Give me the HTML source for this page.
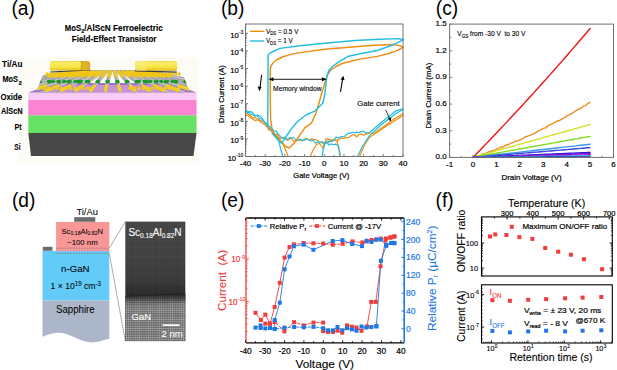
<!DOCTYPE html>
<html><head><meta charset="utf-8"><style>
html,body{margin:0;padding:0;background:#fff;overflow:hidden;}
svg{display:block;}
text{font-family:"Liberation Sans", sans-serif;}
</style></head><body>
<svg width="617" height="370" viewBox="0 0 617 370">
<defs>
<linearGradient id="gold" x1="0" y1="0" x2="0" y2="1">
<stop offset="0" stop-color="#e8d24a"/><stop offset="0.18" stop-color="#f8ec6a"/><stop offset="0.6" stop-color="#f8e645"/><stop offset="0.9" stop-color="#e8cc28"/><stop offset="1" stop-color="#c8a818"/></linearGradient>
<linearGradient id="goldside" x1="0" y1="0" x2="1" y2="0">
<stop offset="0" stop-color="#c89a18"/><stop offset="0.5" stop-color="#e0b828"/><stop offset="1" stop-color="#d8a820"/></linearGradient>
<linearGradient id="tem" x1="0" y1="0" x2="0" y2="1">
<stop offset="0" stop-color="#414141"/><stop offset="0.3" stop-color="#3c3c3c"/><stop offset="0.5" stop-color="#343434"/><stop offset="0.6" stop-color="#262626"/><stop offset="1" stop-color="#202020"/></linearGradient>
<linearGradient id="temfade" x1="0" y1="0" x2="0" y2="1">
<stop offset="0" stop-color="#1e1e1e" stop-opacity="1"/><stop offset="1" stop-color="#1e1e1e" stop-opacity="0"/></linearGradient>
<pattern id="lat" x="125.3" y="221.6" width="2.2" height="2.25" patternUnits="userSpaceOnUse"><rect width="2.2" height="2.25" fill="#636363"/><circle cx="1.1" cy="1.1" r="0.8" fill="#b6b6b6"/></pattern>
<pattern id="latd" x="125.3" y="221.6" width="2.2" height="2.25" patternUnits="userSpaceOnUse"><circle cx="1.1" cy="1.1" r="0.7" fill="#fff" fill-opacity="0.09"/></pattern>
</defs>
<rect width="617" height="370" fill="#fff"/>
<text transform="translate(11.5,14.6) scale(0.93,1)" font-size="20.6" fill="#000" text-anchor="start" font-weight="normal" >(a)</text>
<text transform="translate(220.9,14.6) scale(0.93,1)" font-size="20.6" fill="#000" text-anchor="start" font-weight="normal" >(b)</text>
<text transform="translate(435.8,14.6) scale(0.93,1)" font-size="20.6" fill="#000" text-anchor="start" font-weight="normal" >(c)</text>
<text transform="translate(12,206.8) scale(0.93,1)" font-size="20.6" fill="#000" text-anchor="start" font-weight="normal" >(d)</text>
<text transform="translate(220.9,206.9) scale(0.93,1)" font-size="20.6" fill="#000" text-anchor="start" font-weight="normal" >(e)</text>
<text transform="translate(435.6,206.8) scale(0.93,1)" font-size="20.6" fill="#000" text-anchor="start" font-weight="normal" >(f)</text>
<rect x="18" y="57.5" width="180.6" height="106.3" fill="#fdfbf6"/>
<polygon points="28.3,133 196.5,133 193.5,156 31,156" fill="#474747"/>
<polygon points="28.3,115.2 196.5,115.2 196.5,133 28.3,133" fill="#66e164"/>
<polygon points="28.3,100 196.5,100 196.5,115.2 28.3,115.2" fill="#fc82d2"/>
<polygon points="28.3,92.6 196.5,92.6 196.5,100 28.3,100" fill="#f8cbf3"/>
<polygon points="28.3,92.6 55,83 172,83 196.5,92.6" fill="#a070c8"/>
<polygon points="60,85 165,85 180,92.6 45,92.6" fill="#cc9ad8" opacity="0.85"/>
<clipPath id="mosclip"><polygon points="45,70 181,70 190,92.6 36,92.6"/></clipPath>
<g clip-path="url(#mosclip)">
<line x1="86.24" y1="69" x2="-39.84" y2="93" stroke="#a4a4a8" stroke-width="3.8"/>
<line x1="87.44" y1="69" x2="-38.64" y2="93" stroke="#e2e2e2" stroke-width="0.7"/>
<line x1="89" y1="69" x2="-23.8" y2="93" stroke="#a4a4a8" stroke-width="3.8"/>
<line x1="90.2" y1="69" x2="-22.6" y2="93" stroke="#e2e2e2" stroke-width="0.7"/>
<line x1="91.76" y1="69" x2="-7.76" y2="93" stroke="#a4a4a8" stroke-width="3.8"/>
<line x1="92.96" y1="69" x2="-6.56" y2="93" stroke="#e2e2e2" stroke-width="0.7"/>
<line x1="94.53" y1="69" x2="8.27" y2="93" stroke="#a4a4a8" stroke-width="3.8"/>
<line x1="95.73" y1="69" x2="9.47" y2="93" stroke="#e2e2e2" stroke-width="0.7"/>
<line x1="97.29" y1="69" x2="24.31" y2="93" stroke="#a4a4a8" stroke-width="3.8"/>
<line x1="98.49" y1="69" x2="25.51" y2="93" stroke="#e2e2e2" stroke-width="0.7"/>
<line x1="100.06" y1="69" x2="40.34" y2="93" stroke="#a4a4a8" stroke-width="3.8"/>
<line x1="101.26" y1="69" x2="41.54" y2="93" stroke="#e2e2e2" stroke-width="0.7"/>
<line x1="102.82" y1="69" x2="56.38" y2="93" stroke="#a4a4a8" stroke-width="3.8"/>
<line x1="104.02" y1="69" x2="57.58" y2="93" stroke="#e2e2e2" stroke-width="0.7"/>
<line x1="105.59" y1="69" x2="72.41" y2="93" stroke="#a4a4a8" stroke-width="3.8"/>
<line x1="106.79" y1="69" x2="73.61" y2="93" stroke="#e2e2e2" stroke-width="0.7"/>
<line x1="108.35" y1="69" x2="88.45" y2="93" stroke="#a4a4a8" stroke-width="3.8"/>
<line x1="109.55" y1="69" x2="89.65" y2="93" stroke="#e2e2e2" stroke-width="0.7"/>
<line x1="111.12" y1="69" x2="104.48" y2="93" stroke="#a4a4a8" stroke-width="3.8"/>
<line x1="112.32" y1="69" x2="105.68" y2="93" stroke="#e2e2e2" stroke-width="0.7"/>
<line x1="113.88" y1="69" x2="120.52" y2="93" stroke="#a4a4a8" stroke-width="3.8"/>
<line x1="115.08" y1="69" x2="121.72" y2="93" stroke="#e2e2e2" stroke-width="0.7"/>
<line x1="116.65" y1="69" x2="136.55" y2="93" stroke="#a4a4a8" stroke-width="3.8"/>
<line x1="117.85" y1="69" x2="137.75" y2="93" stroke="#e2e2e2" stroke-width="0.7"/>
<line x1="119.41" y1="69" x2="152.59" y2="93" stroke="#a4a4a8" stroke-width="3.8"/>
<line x1="120.61" y1="69" x2="153.79" y2="93" stroke="#e2e2e2" stroke-width="0.7"/>
<line x1="122.18" y1="69" x2="168.62" y2="93" stroke="#a4a4a8" stroke-width="3.8"/>
<line x1="123.38" y1="69" x2="169.82" y2="93" stroke="#e2e2e2" stroke-width="0.7"/>
<line x1="124.94" y1="69" x2="184.66" y2="93" stroke="#a4a4a8" stroke-width="3.8"/>
<line x1="126.14" y1="69" x2="185.86" y2="93" stroke="#e2e2e2" stroke-width="0.7"/>
<line x1="127.71" y1="69" x2="200.69" y2="93" stroke="#a4a4a8" stroke-width="3.8"/>
<line x1="128.91" y1="69" x2="201.89" y2="93" stroke="#e2e2e2" stroke-width="0.7"/>
<line x1="130.47" y1="69" x2="216.73" y2="93" stroke="#a4a4a8" stroke-width="3.8"/>
<line x1="131.67" y1="69" x2="217.93" y2="93" stroke="#e2e2e2" stroke-width="0.7"/>
<line x1="133.24" y1="69" x2="232.76" y2="93" stroke="#a4a4a8" stroke-width="3.8"/>
<line x1="134.44" y1="69" x2="233.96" y2="93" stroke="#e2e2e2" stroke-width="0.7"/>
<line x1="136" y1="69" x2="248.8" y2="93" stroke="#a4a4a8" stroke-width="3.8"/>
<line x1="137.2" y1="69" x2="250" y2="93" stroke="#e2e2e2" stroke-width="0.7"/>
<line x1="72.58" y1="71.6" x2="48.41" y2="76.2" stroke="#f2c818" stroke-width="3" stroke-linecap="round"/>
<line x1="-3.06" y1="86" x2="-26.18" y2="90.4" stroke="#f5cc22" stroke-width="3.2" stroke-linecap="round"/>
<ellipse cx="20.05" cy="81.6" rx="2.3" ry="1.9" fill="#1c9428"/>
<line x1="76.78" y1="71.6" x2="55.16" y2="76.2" stroke="#f2c818" stroke-width="3" stroke-linecap="round"/>
<line x1="9.1" y1="86" x2="-11.58" y2="90.4" stroke="#f5cc22" stroke-width="3.2" stroke-linecap="round"/>
<ellipse cx="29.78" cy="81.6" rx="2.3" ry="1.9" fill="#1c9428"/>
<line x1="80.98" y1="71.6" x2="61.91" y2="76.2" stroke="#f2c818" stroke-width="3" stroke-linecap="round"/>
<line x1="21.26" y1="86" x2="3.02" y2="90.4" stroke="#f5cc22" stroke-width="3.2" stroke-linecap="round"/>
<ellipse cx="39.51" cy="81.6" rx="2.3" ry="1.9" fill="#1c9428"/>
<line x1="85.18" y1="71.6" x2="68.65" y2="76.2" stroke="#f2c818" stroke-width="3" stroke-linecap="round"/>
<line x1="33.43" y1="86" x2="17.62" y2="90.4" stroke="#f5cc22" stroke-width="3.2" stroke-linecap="round"/>
<ellipse cx="49.24" cy="81.6" rx="2.3" ry="1.9" fill="#1c9428"/>
<line x1="89.39" y1="71.6" x2="75.4" y2="76.2" stroke="#f2c818" stroke-width="3" stroke-linecap="round"/>
<line x1="45.59" y1="86" x2="32.21" y2="90.4" stroke="#f5cc22" stroke-width="3.2" stroke-linecap="round"/>
<ellipse cx="58.98" cy="81.6" rx="2.3" ry="1.9" fill="#1c9428"/>
<line x1="93.59" y1="71.6" x2="82.14" y2="76.2" stroke="#f2c818" stroke-width="3" stroke-linecap="round"/>
<line x1="57.76" y1="86" x2="46.81" y2="90.4" stroke="#f5cc22" stroke-width="3.2" stroke-linecap="round"/>
<ellipse cx="68.71" cy="81.6" rx="2.3" ry="1.9" fill="#1c9428"/>
<line x1="97.79" y1="71.6" x2="88.89" y2="76.2" stroke="#f2c818" stroke-width="3" stroke-linecap="round"/>
<line x1="69.92" y1="86" x2="61.41" y2="90.4" stroke="#f5cc22" stroke-width="3.2" stroke-linecap="round"/>
<ellipse cx="78.44" cy="81.6" rx="2.3" ry="1.9" fill="#1c9428"/>
<line x1="101.99" y1="71.6" x2="95.64" y2="76.2" stroke="#f2c818" stroke-width="3" stroke-linecap="round"/>
<line x1="82.09" y1="86" x2="76.01" y2="90.4" stroke="#f5cc22" stroke-width="3.2" stroke-linecap="round"/>
<ellipse cx="88.17" cy="81.6" rx="2.3" ry="1.9" fill="#1c9428"/>
<line x1="106.2" y1="71.6" x2="102.38" y2="76.2" stroke="#f2c818" stroke-width="3" stroke-linecap="round"/>
<line x1="94.25" y1="86" x2="90.6" y2="90.4" stroke="#f5cc22" stroke-width="3.2" stroke-linecap="round"/>
<ellipse cx="97.9" cy="81.6" rx="2.3" ry="1.9" fill="#1c9428"/>
<line x1="110.4" y1="71.6" x2="109.13" y2="76.2" stroke="#f2c818" stroke-width="3" stroke-linecap="round"/>
<line x1="106.42" y1="86" x2="105.2" y2="90.4" stroke="#f5cc22" stroke-width="3.2" stroke-linecap="round"/>
<ellipse cx="107.63" cy="81.6" rx="2.3" ry="1.9" fill="#1c9428"/>
<line x1="114.6" y1="71.6" x2="115.87" y2="76.2" stroke="#f2c818" stroke-width="3" stroke-linecap="round"/>
<line x1="118.58" y1="86" x2="119.8" y2="90.4" stroke="#f5cc22" stroke-width="3.2" stroke-linecap="round"/>
<ellipse cx="117.37" cy="81.6" rx="2.3" ry="1.9" fill="#1c9428"/>
<line x1="118.8" y1="71.6" x2="122.62" y2="76.2" stroke="#f2c818" stroke-width="3" stroke-linecap="round"/>
<line x1="130.75" y1="86" x2="134.4" y2="90.4" stroke="#f5cc22" stroke-width="3.2" stroke-linecap="round"/>
<ellipse cx="127.1" cy="81.6" rx="2.3" ry="1.9" fill="#1c9428"/>
<line x1="123.01" y1="71.6" x2="129.36" y2="76.2" stroke="#f2c818" stroke-width="3" stroke-linecap="round"/>
<line x1="142.91" y1="86" x2="148.99" y2="90.4" stroke="#f5cc22" stroke-width="3.2" stroke-linecap="round"/>
<ellipse cx="136.83" cy="81.6" rx="2.3" ry="1.9" fill="#1c9428"/>
<line x1="127.21" y1="71.6" x2="136.11" y2="76.2" stroke="#f2c818" stroke-width="3" stroke-linecap="round"/>
<line x1="155.08" y1="86" x2="163.59" y2="90.4" stroke="#f5cc22" stroke-width="3.2" stroke-linecap="round"/>
<ellipse cx="146.56" cy="81.6" rx="2.3" ry="1.9" fill="#1c9428"/>
<line x1="131.41" y1="71.6" x2="142.86" y2="76.2" stroke="#f2c818" stroke-width="3" stroke-linecap="round"/>
<line x1="167.24" y1="86" x2="178.19" y2="90.4" stroke="#f5cc22" stroke-width="3.2" stroke-linecap="round"/>
<ellipse cx="156.29" cy="81.6" rx="2.3" ry="1.9" fill="#1c9428"/>
<line x1="135.61" y1="71.6" x2="149.6" y2="76.2" stroke="#f2c818" stroke-width="3" stroke-linecap="round"/>
<line x1="179.41" y1="86" x2="192.79" y2="90.4" stroke="#f5cc22" stroke-width="3.2" stroke-linecap="round"/>
<ellipse cx="166.02" cy="81.6" rx="2.3" ry="1.9" fill="#1c9428"/>
<line x1="139.82" y1="71.6" x2="156.35" y2="76.2" stroke="#f2c818" stroke-width="3" stroke-linecap="round"/>
<line x1="191.57" y1="86" x2="207.38" y2="90.4" stroke="#f5cc22" stroke-width="3.2" stroke-linecap="round"/>
<ellipse cx="175.76" cy="81.6" rx="2.3" ry="1.9" fill="#1c9428"/>
<line x1="144.02" y1="71.6" x2="163.09" y2="76.2" stroke="#f2c818" stroke-width="3" stroke-linecap="round"/>
<line x1="203.74" y1="86" x2="221.98" y2="90.4" stroke="#f5cc22" stroke-width="3.2" stroke-linecap="round"/>
<ellipse cx="185.49" cy="81.6" rx="2.3" ry="1.9" fill="#1c9428"/>
<line x1="148.22" y1="71.6" x2="169.84" y2="76.2" stroke="#f2c818" stroke-width="3" stroke-linecap="round"/>
<line x1="215.9" y1="86" x2="236.58" y2="90.4" stroke="#f5cc22" stroke-width="3.2" stroke-linecap="round"/>
<ellipse cx="195.22" cy="81.6" rx="2.3" ry="1.9" fill="#1c9428"/>
<circle cx="47" cy="73.9" r="1.6" fill="#f0c414"/>
<circle cx="50.3" cy="73.9" r="1.6" fill="#f0c414"/>
<circle cx="53.6" cy="73.9" r="1.6" fill="#f0c414"/>
<circle cx="56.9" cy="73.9" r="1.6" fill="#f0c414"/>
<circle cx="60.2" cy="73.9" r="1.6" fill="#f0c414"/>
<circle cx="63.5" cy="73.9" r="1.6" fill="#f0c414"/>
<circle cx="66.8" cy="73.9" r="1.6" fill="#f0c414"/>
<circle cx="70.1" cy="73.9" r="1.6" fill="#f0c414"/>
<circle cx="73.4" cy="73.9" r="1.6" fill="#f0c414"/>
<circle cx="76.7" cy="73.9" r="1.6" fill="#f0c414"/>
<circle cx="80" cy="73.9" r="1.6" fill="#f0c414"/>
<circle cx="83.3" cy="73.9" r="1.6" fill="#f0c414"/>
<circle cx="86.6" cy="73.9" r="1.6" fill="#f0c414"/>
<circle cx="89.9" cy="73.9" r="1.6" fill="#f0c414"/>
<ellipse cx="53" cy="81.4" rx="2.1" ry="1.7" fill="#1a9a2a"/>
<ellipse cx="58.6" cy="81.4" rx="2.1" ry="1.7" fill="#1a9a2a"/>
<ellipse cx="64.2" cy="81.4" rx="2.1" ry="1.7" fill="#1a9a2a"/>
<ellipse cx="69.8" cy="81.4" rx="2.1" ry="1.7" fill="#1a9a2a"/>
<ellipse cx="75.4" cy="81.4" rx="2.1" ry="1.7" fill="#1a9a2a"/>
<ellipse cx="81" cy="81.4" rx="2.1" ry="1.7" fill="#1a9a2a"/>
<ellipse cx="86.6" cy="81.4" rx="2.1" ry="1.7" fill="#1a9a2a"/>
<circle cx="44" cy="88.2" r="1.7" fill="#f2c820"/>
<circle cx="48.4" cy="88.2" r="1.7" fill="#f2c820"/>
<circle cx="52.8" cy="88.2" r="1.7" fill="#f2c820"/>
<circle cx="57.2" cy="88.2" r="1.7" fill="#f2c820"/>
<circle cx="61.6" cy="88.2" r="1.7" fill="#f2c820"/>
<circle cx="66" cy="88.2" r="1.7" fill="#f2c820"/>
<circle cx="70.4" cy="88.2" r="1.7" fill="#f2c820"/>
<circle cx="74.8" cy="88.2" r="1.7" fill="#f2c820"/>
<circle cx="79.2" cy="88.2" r="1.7" fill="#f2c820"/>
<circle cx="83.6" cy="88.2" r="1.7" fill="#f2c820"/>
<circle cx="88" cy="88.2" r="1.7" fill="#f2c820"/>
<circle cx="92.4" cy="88.2" r="1.7" fill="#f2c820"/>
<circle cx="133" cy="73.9" r="1.6" fill="#f0c414"/>
<circle cx="136.3" cy="73.9" r="1.6" fill="#f0c414"/>
<circle cx="139.6" cy="73.9" r="1.6" fill="#f0c414"/>
<circle cx="142.9" cy="73.9" r="1.6" fill="#f0c414"/>
<circle cx="146.2" cy="73.9" r="1.6" fill="#f0c414"/>
<circle cx="149.5" cy="73.9" r="1.6" fill="#f0c414"/>
<circle cx="152.8" cy="73.9" r="1.6" fill="#f0c414"/>
<circle cx="156.1" cy="73.9" r="1.6" fill="#f0c414"/>
<circle cx="159.4" cy="73.9" r="1.6" fill="#f0c414"/>
<circle cx="162.7" cy="73.9" r="1.6" fill="#f0c414"/>
<circle cx="166" cy="73.9" r="1.6" fill="#f0c414"/>
<circle cx="169.3" cy="73.9" r="1.6" fill="#f0c414"/>
<circle cx="172.6" cy="73.9" r="1.6" fill="#f0c414"/>
<circle cx="175.9" cy="73.9" r="1.6" fill="#f0c414"/>
<circle cx="179.2" cy="73.9" r="1.6" fill="#f0c414"/>
<ellipse cx="139" cy="81.4" rx="2.1" ry="1.7" fill="#1a9a2a"/>
<ellipse cx="144.6" cy="81.4" rx="2.1" ry="1.7" fill="#1a9a2a"/>
<ellipse cx="150.2" cy="81.4" rx="2.1" ry="1.7" fill="#1a9a2a"/>
<ellipse cx="155.8" cy="81.4" rx="2.1" ry="1.7" fill="#1a9a2a"/>
<ellipse cx="161.4" cy="81.4" rx="2.1" ry="1.7" fill="#1a9a2a"/>
<ellipse cx="167" cy="81.4" rx="2.1" ry="1.7" fill="#1a9a2a"/>
<ellipse cx="172.6" cy="81.4" rx="2.1" ry="1.7" fill="#1a9a2a"/>
<circle cx="130" cy="88.2" r="1.7" fill="#f2c820"/>
<circle cx="134.4" cy="88.2" r="1.7" fill="#f2c820"/>
<circle cx="138.8" cy="88.2" r="1.7" fill="#f2c820"/>
<circle cx="143.2" cy="88.2" r="1.7" fill="#f2c820"/>
<circle cx="147.6" cy="88.2" r="1.7" fill="#f2c820"/>
<circle cx="152" cy="88.2" r="1.7" fill="#f2c820"/>
<circle cx="156.4" cy="88.2" r="1.7" fill="#f2c820"/>
<circle cx="160.8" cy="88.2" r="1.7" fill="#f2c820"/>
<circle cx="165.2" cy="88.2" r="1.7" fill="#f2c820"/>
<circle cx="169.6" cy="88.2" r="1.7" fill="#f2c820"/>
<circle cx="174" cy="88.2" r="1.7" fill="#f2c820"/>
<circle cx="178.4" cy="88.2" r="1.7" fill="#f2c820"/>
</g>
<polygon points="50,71.6 90,69.4 90.5,70.6 51,72.6" fill="#3c3c44"/>
<polygon points="135,70.2 177,71.6 176.5,72.8 135,71.6" fill="#3c3c44"/>
<rect x="78" y="61" width="12.2" height="9.4" rx="3" fill="url(#goldside)"/>
<rect x="49.9" y="60.9" width="31" height="9.6" rx="2.6" fill="url(#gold)"/>
<rect x="134.9" y="60.9" width="42.4" height="9.8" rx="2.8" fill="url(#gold)"/>
<rect x="134.9" y="60.9" width="12" height="9.8" rx="2.5" fill="#f6ee86" opacity="0.55"/>
<text x="2.1" y="66.9" font-size="8.4" fill="#000" text-anchor="start" font-weight="bold"  stroke="#000" stroke-width="0.1" textLength="20.3" lengthAdjust="spacingAndGlyphs">Ti/Au</text>
<text x="0.4" y="99.6" font-size="8.4" fill="#000" text-anchor="start" font-weight="bold"  stroke="#000" stroke-width="0.1" textLength="21.6" lengthAdjust="spacingAndGlyphs">Oxide</text>
<text x="0.9" y="114.1" font-size="8.4" fill="#000" text-anchor="start" font-weight="bold"  stroke="#000" stroke-width="0.1" textLength="21.8" lengthAdjust="spacingAndGlyphs">AlScN</text>
<text x="14.6" y="129.7" font-size="8.4" fill="#000" text-anchor="start" font-weight="bold"  stroke="#000" stroke-width="0.1" textLength="7.1" lengthAdjust="spacingAndGlyphs">Pt</text>
<text x="14.3" y="150.2" font-size="8.4" fill="#000" text-anchor="start" font-weight="bold"  stroke="#000" stroke-width="0.1" textLength="6.2" lengthAdjust="spacingAndGlyphs">Si</text>
<text x="2.4" y="82" font-size="8.4" fill="#000" text-anchor="start" font-weight="bold"  stroke="#000" stroke-width="0.1" textLength="15.6" lengthAdjust="spacingAndGlyphs">MoS</text>
<text x="18.4" y="84.5" font-size="5.8" fill="#000" text-anchor="start" font-weight="bold"  stroke="#000" stroke-width="0.1" textLength="3.4" lengthAdjust="spacingAndGlyphs">2</text>
<text x="64.8" y="31" font-size="8.6" fill="#000" text-anchor="start" font-weight="bold"  stroke="#000" stroke-width="0.12" textLength="16.2" lengthAdjust="spacingAndGlyphs">MoS</text>
<text x="81.2" y="33.2" font-size="5.6" fill="#000" text-anchor="start" font-weight="bold"  stroke="#000" stroke-width="0.12" textLength="3" lengthAdjust="spacingAndGlyphs">2</text>
<text x="84.3" y="31" font-size="8.6" fill="#000" text-anchor="start" font-weight="bold"  stroke="#000" stroke-width="0.12" textLength="78.5" lengthAdjust="spacingAndGlyphs">/AlScN Ferroelectric</text>
<text x="71.8" y="42.2" font-size="8.6" fill="#000" text-anchor="start" font-weight="bold"  stroke="#000" stroke-width="0.12" textLength="84.6" lengthAdjust="spacingAndGlyphs">Field-Effect Transistor</text>
<polyline points="245.5,113 247.86,113.98 250.21,115.49 252.57,117.86 254.93,117.46 257.29,118.74 259.64,120.15 262,121 264.5,122.18 267,125.54 269.5,128.19 272,130 274.67,133.82 277.33,134.29 280,138.5 282.22,138 284.44,137.45 286.67,140.05 288.89,139.82 291.11,137.78 293.33,141.13 295.56,141.24 297.78,140.35 300,140 302.25,140.45 304.5,138.97 306.75,138.55 309,140.35 311.25,138.82 313.5,139.33 315.75,139.57 318,140.5 320.5,145 322.9,148 324.6,143 326.1,138.7 326.1,138.7 328.28,139.17 330.46,140.35 332.64,140.94 334.82,139.73 337,141.5 338.6,147 339.8,156.5" fill="none" stroke="#ef8d12" stroke-width="1.2" stroke-linejoin="round" stroke-linecap="round" />
<polyline points="245.5,115 247.86,115.45 250.21,117.82 252.57,118.96 254.93,120.57 257.29,119.82 259.64,121.09 262,123 264.33,124.16 266.67,126.55 269,130.17 271.33,130.61 273.67,133.92 276,136 278.57,138.28 281.13,141.61 283.7,145.3 288.2,156.5" fill="none" stroke="#ef8d12" stroke-width="1.2" stroke-linejoin="round" stroke-linecap="round" />
<polyline points="310.3,156.5 313,150 316.6,144.5 318.7,143.8 318.7,143.8 321.03,141.93 323.36,143.4 325.69,142.69 328.01,143.12 330.34,140.31 332.67,139.72 335,140 337.14,140.31 339.29,139.56 341.43,137.88 343.57,138.68 345.71,137.22 347.86,138.02 350,136.6 352.25,134.92 354.5,134.89 356.75,136.79 359,134.57 361.25,133.85 363.5,135.3 365.75,134.33 368,133.5 375,132.8 392.3,120.2 403,113.6" fill="none" stroke="#ef8d12" stroke-width="1.2" stroke-linejoin="round" stroke-linecap="round" />
<polyline points="359.5,156.5 365,144 369.6,137.3 385,127 403,115.5" fill="none" stroke="#ef8d12" stroke-width="1.2" stroke-linejoin="round" stroke-linecap="round" />
<polyline points="245.5,111 247.86,111.01 250.21,113.93 252.57,114.88 254.93,115.5 257.29,115.75 259.64,118.85 262,119 264.4,122.44 266.8,123.84 269.2,126.22 271.6,127.71 274,131 276.25,131.2 278.5,134.31 280.75,136.91 283,138.5 285.12,137.11 287.25,139.62 289.38,137.78 291.5,137.85 293.62,137.27 295.75,140.56 297.88,139.74 300,139 302.22,140.66 304.44,140.17 306.67,138.59 308.89,139.98 311.11,140.94 313.33,140.03 315.56,143.25 317.78,141.67 320,142.5 322.21,141.65 324.43,144.2 326.64,142.17 328.85,145.2 331.06,143.9 333.27,144.55 335.49,144.16 337.7,145 339.4,150 340.3,156.5" fill="none" stroke="#22bde0" stroke-width="1.2" stroke-linejoin="round" stroke-linecap="round" />
<polyline points="245.5,110.5 247.86,112.88 250.21,111.61 252.57,112.35 254.93,116.21 257.29,114.95 259.64,115.84 262,118 264.34,121.58 266.69,123.84 269.03,128.54 271.37,129.8 273.71,135.03 276.06,136.34 278.4,140 280,146 282.8,156.5" fill="none" stroke="#22bde0" stroke-width="1.2" stroke-linejoin="round" stroke-linecap="round" />
<polyline points="321.9,156.5 323.5,149 325,143.4 327.1,140.8 327.1,140.8 329.34,141.64 331.58,141.12 333.81,140.33 336.05,136.99 338.29,138.11 340.52,136.94 342.76,136.7 345,136 347.5,133.45 350,133.4 352.25,132.25 354.5,132.99 356.75,132.12 359,132.8 361.25,131.23 363.5,131.32 365.75,133.32 368,132.5 370,132 382.8,121.2 396,110.8 403,108.9" fill="none" stroke="#22bde0" stroke-width="1.2" stroke-linejoin="round" stroke-linecap="round" />
<polyline points="357.7,156.5 362,147 369.6,135.4 382.8,123.5 396,113.5 403,109.5" fill="none" stroke="#22bde0" stroke-width="1.2" stroke-linejoin="round" stroke-linecap="round" />
<polyline points="272,131 280,140 285,146 289.1,148 293.6,143.8 298.9,136.4 305,127.6 311.4,123.1 316.1,112.7 318.9,103.3 322.7,90 325.9,79.7 328,74 330.8,70 336,66.5 342.1,63.5 350,61.5 360,59.1 377.3,56.4 388,53.8 396.6,50.9 401,48.5 403,47.2" fill="none" stroke="#ef8d12" stroke-width="1.45" stroke-linejoin="round" stroke-linecap="round" />
<polyline points="403,47.2 400,45.6 392,44.5 375,45.2 355,46.7 325,49.3 300,52.6 290,54.6 283.8,56.5 277,59.5 273.4,62.5 271.2,65.5 270.3,69 270.3,100 270.6,118.7 271.5,126 272,131" fill="none" stroke="#ef8d12" stroke-width="1.45" stroke-linejoin="round" stroke-linecap="round" />
<polyline points="272,133 278,140 281.9,143.5 286,136.5 291.7,128.4 297,122 306,115 315.2,110.8 322.7,103.3 324.6,95.7 325.6,88 326.7,77.3 328.8,70.5 333,66 338.9,61.9 348.6,56.2 360,53.8 377.3,50.5 392.1,45.3 403,39.8" fill="none" stroke="#22bde0" stroke-width="1.45" stroke-linejoin="round" stroke-linecap="round" />
<polyline points="403,39.8 399.6,38.6 380,39.2 355,40.5 330,42.8 300,45.7 280,48.4 271,52.5 268.3,54.5 268.1,56 268,90 267.7,124.3 267.7,126" fill="none" stroke="#22bde0" stroke-width="1.45" stroke-linejoin="round" stroke-linecap="round" />
<rect x="245.5" y="24" width="157.5" height="132.5" fill="none" stroke="#727272" stroke-width="1"/>
<line x1="245.5" y1="156.5" x2="245.5" y2="154" stroke="#727272" stroke-width="0.9" />
<line x1="265.19" y1="156.5" x2="265.19" y2="154" stroke="#727272" stroke-width="0.9" />
<line x1="284.88" y1="156.5" x2="284.88" y2="154" stroke="#727272" stroke-width="0.9" />
<line x1="304.56" y1="156.5" x2="304.56" y2="154" stroke="#727272" stroke-width="0.9" />
<line x1="324.25" y1="156.5" x2="324.25" y2="154" stroke="#727272" stroke-width="0.9" />
<line x1="343.94" y1="156.5" x2="343.94" y2="154" stroke="#727272" stroke-width="0.9" />
<line x1="363.62" y1="156.5" x2="363.62" y2="154" stroke="#727272" stroke-width="0.9" />
<line x1="383.31" y1="156.5" x2="383.31" y2="154" stroke="#727272" stroke-width="0.9" />
<line x1="403" y1="156.5" x2="403" y2="154" stroke="#727272" stroke-width="0.9" />
<line x1="255.34" y1="156.5" x2="255.34" y2="155" stroke="#727272" stroke-width="0.9" />
<line x1="275.03" y1="156.5" x2="275.03" y2="155" stroke="#727272" stroke-width="0.9" />
<line x1="294.72" y1="156.5" x2="294.72" y2="155" stroke="#727272" stroke-width="0.9" />
<line x1="314.41" y1="156.5" x2="314.41" y2="155" stroke="#727272" stroke-width="0.9" />
<line x1="334.09" y1="156.5" x2="334.09" y2="155" stroke="#727272" stroke-width="0.9" />
<line x1="353.78" y1="156.5" x2="353.78" y2="155" stroke="#727272" stroke-width="0.9" />
<line x1="373.47" y1="156.5" x2="373.47" y2="155" stroke="#727272" stroke-width="0.9" />
<line x1="393.16" y1="156.5" x2="393.16" y2="155" stroke="#727272" stroke-width="0.9" />
<line x1="245.5" y1="156.5" x2="248" y2="156.5" stroke="#727272" stroke-width="0.9" />
<line x1="245.5" y1="151.2" x2="246.9" y2="151.2" stroke="#727272" stroke-width="0.7" />
<line x1="245.5" y1="148.1" x2="246.9" y2="148.1" stroke="#727272" stroke-width="0.7" />
<line x1="245.5" y1="145.9" x2="246.9" y2="145.9" stroke="#727272" stroke-width="0.7" />
<line x1="245.5" y1="144.2" x2="246.9" y2="144.2" stroke="#727272" stroke-width="0.7" />
<line x1="245.5" y1="142.8" x2="246.9" y2="142.8" stroke="#727272" stroke-width="0.7" />
<line x1="245.5" y1="141.63" x2="246.9" y2="141.63" stroke="#727272" stroke-width="0.7" />
<line x1="245.5" y1="140.61" x2="246.9" y2="140.61" stroke="#727272" stroke-width="0.7" />
<line x1="245.5" y1="139.71" x2="246.9" y2="139.71" stroke="#727272" stroke-width="0.7" />
<line x1="245.5" y1="138.9" x2="248" y2="138.9" stroke="#727272" stroke-width="0.9" />
<line x1="245.5" y1="133.6" x2="246.9" y2="133.6" stroke="#727272" stroke-width="0.7" />
<line x1="245.5" y1="130.5" x2="246.9" y2="130.5" stroke="#727272" stroke-width="0.7" />
<line x1="245.5" y1="128.3" x2="246.9" y2="128.3" stroke="#727272" stroke-width="0.7" />
<line x1="245.5" y1="126.6" x2="246.9" y2="126.6" stroke="#727272" stroke-width="0.7" />
<line x1="245.5" y1="125.2" x2="246.9" y2="125.2" stroke="#727272" stroke-width="0.7" />
<line x1="245.5" y1="124.03" x2="246.9" y2="124.03" stroke="#727272" stroke-width="0.7" />
<line x1="245.5" y1="123.01" x2="246.9" y2="123.01" stroke="#727272" stroke-width="0.7" />
<line x1="245.5" y1="122.11" x2="246.9" y2="122.11" stroke="#727272" stroke-width="0.7" />
<line x1="245.5" y1="121.3" x2="248" y2="121.3" stroke="#727272" stroke-width="0.9" />
<line x1="245.5" y1="116" x2="246.9" y2="116" stroke="#727272" stroke-width="0.7" />
<line x1="245.5" y1="112.9" x2="246.9" y2="112.9" stroke="#727272" stroke-width="0.7" />
<line x1="245.5" y1="110.7" x2="246.9" y2="110.7" stroke="#727272" stroke-width="0.7" />
<line x1="245.5" y1="109" x2="246.9" y2="109" stroke="#727272" stroke-width="0.7" />
<line x1="245.5" y1="107.6" x2="246.9" y2="107.6" stroke="#727272" stroke-width="0.7" />
<line x1="245.5" y1="106.43" x2="246.9" y2="106.43" stroke="#727272" stroke-width="0.7" />
<line x1="245.5" y1="105.41" x2="246.9" y2="105.41" stroke="#727272" stroke-width="0.7" />
<line x1="245.5" y1="104.51" x2="246.9" y2="104.51" stroke="#727272" stroke-width="0.7" />
<line x1="245.5" y1="103.7" x2="248" y2="103.7" stroke="#727272" stroke-width="0.9" />
<line x1="245.5" y1="98.4" x2="246.9" y2="98.4" stroke="#727272" stroke-width="0.7" />
<line x1="245.5" y1="95.3" x2="246.9" y2="95.3" stroke="#727272" stroke-width="0.7" />
<line x1="245.5" y1="93.1" x2="246.9" y2="93.1" stroke="#727272" stroke-width="0.7" />
<line x1="245.5" y1="91.4" x2="246.9" y2="91.4" stroke="#727272" stroke-width="0.7" />
<line x1="245.5" y1="90" x2="246.9" y2="90" stroke="#727272" stroke-width="0.7" />
<line x1="245.5" y1="88.83" x2="246.9" y2="88.83" stroke="#727272" stroke-width="0.7" />
<line x1="245.5" y1="87.81" x2="246.9" y2="87.81" stroke="#727272" stroke-width="0.7" />
<line x1="245.5" y1="86.91" x2="246.9" y2="86.91" stroke="#727272" stroke-width="0.7" />
<line x1="245.5" y1="86.1" x2="248" y2="86.1" stroke="#727272" stroke-width="0.9" />
<line x1="245.5" y1="80.8" x2="246.9" y2="80.8" stroke="#727272" stroke-width="0.7" />
<line x1="245.5" y1="77.7" x2="246.9" y2="77.7" stroke="#727272" stroke-width="0.7" />
<line x1="245.5" y1="75.5" x2="246.9" y2="75.5" stroke="#727272" stroke-width="0.7" />
<line x1="245.5" y1="73.8" x2="246.9" y2="73.8" stroke="#727272" stroke-width="0.7" />
<line x1="245.5" y1="72.4" x2="246.9" y2="72.4" stroke="#727272" stroke-width="0.7" />
<line x1="245.5" y1="71.23" x2="246.9" y2="71.23" stroke="#727272" stroke-width="0.7" />
<line x1="245.5" y1="70.21" x2="246.9" y2="70.21" stroke="#727272" stroke-width="0.7" />
<line x1="245.5" y1="69.31" x2="246.9" y2="69.31" stroke="#727272" stroke-width="0.7" />
<line x1="245.5" y1="68.5" x2="248" y2="68.5" stroke="#727272" stroke-width="0.9" />
<line x1="245.5" y1="63.2" x2="246.9" y2="63.2" stroke="#727272" stroke-width="0.7" />
<line x1="245.5" y1="60.1" x2="246.9" y2="60.1" stroke="#727272" stroke-width="0.7" />
<line x1="245.5" y1="57.9" x2="246.9" y2="57.9" stroke="#727272" stroke-width="0.7" />
<line x1="245.5" y1="56.2" x2="246.9" y2="56.2" stroke="#727272" stroke-width="0.7" />
<line x1="245.5" y1="54.8" x2="246.9" y2="54.8" stroke="#727272" stroke-width="0.7" />
<line x1="245.5" y1="53.63" x2="246.9" y2="53.63" stroke="#727272" stroke-width="0.7" />
<line x1="245.5" y1="52.61" x2="246.9" y2="52.61" stroke="#727272" stroke-width="0.7" />
<line x1="245.5" y1="51.71" x2="246.9" y2="51.71" stroke="#727272" stroke-width="0.7" />
<line x1="245.5" y1="50.9" x2="248" y2="50.9" stroke="#727272" stroke-width="0.9" />
<line x1="245.5" y1="45.6" x2="246.9" y2="45.6" stroke="#727272" stroke-width="0.7" />
<line x1="245.5" y1="42.5" x2="246.9" y2="42.5" stroke="#727272" stroke-width="0.7" />
<line x1="245.5" y1="40.3" x2="246.9" y2="40.3" stroke="#727272" stroke-width="0.7" />
<line x1="245.5" y1="38.6" x2="246.9" y2="38.6" stroke="#727272" stroke-width="0.7" />
<line x1="245.5" y1="37.2" x2="246.9" y2="37.2" stroke="#727272" stroke-width="0.7" />
<line x1="245.5" y1="36.03" x2="246.9" y2="36.03" stroke="#727272" stroke-width="0.7" />
<line x1="245.5" y1="35.01" x2="246.9" y2="35.01" stroke="#727272" stroke-width="0.7" />
<line x1="245.5" y1="34.11" x2="246.9" y2="34.11" stroke="#727272" stroke-width="0.7" />
<line x1="245.5" y1="33.3" x2="248" y2="33.3" stroke="#727272" stroke-width="0.9" />
<line x1="245.5" y1="28" x2="246.9" y2="28" stroke="#727272" stroke-width="0.7" />
<line x1="245.5" y1="24.9" x2="246.9" y2="24.9" stroke="#727272" stroke-width="0.7" />
<text x="245.5" y="165.8" font-size="8" fill="#000" text-anchor="middle" font-weight="normal"  stroke="#000" stroke-width="0.2">-40</text>
<text x="265.19" y="165.8" font-size="8" fill="#000" text-anchor="middle" font-weight="normal"  stroke="#000" stroke-width="0.2">-30</text>
<text x="284.88" y="165.8" font-size="8" fill="#000" text-anchor="middle" font-weight="normal"  stroke="#000" stroke-width="0.2">-20</text>
<text x="304.56" y="165.8" font-size="8" fill="#000" text-anchor="middle" font-weight="normal"  stroke="#000" stroke-width="0.2">-10</text>
<text x="324.25" y="165.8" font-size="8" fill="#000" text-anchor="middle" font-weight="normal"  stroke="#000" stroke-width="0.2">0</text>
<text x="343.94" y="165.8" font-size="8" fill="#000" text-anchor="middle" font-weight="normal"  stroke="#000" stroke-width="0.2">10</text>
<text x="363.62" y="165.8" font-size="8" fill="#000" text-anchor="middle" font-weight="normal"  stroke="#000" stroke-width="0.2">20</text>
<text x="383.31" y="165.8" font-size="8" fill="#000" text-anchor="middle" font-weight="normal"  stroke="#000" stroke-width="0.2">30</text>
<text x="403" y="165.8" font-size="8" fill="#000" text-anchor="middle" font-weight="normal"  stroke="#000" stroke-width="0.2">40</text>
<text x="236.1" y="160.7" font-size="7.6" fill="#000" text-anchor="end" font-weight="normal"  stroke="#000" stroke-width="0.2">10</text>
<text x="236.2" y="157.1" font-size="4.9" fill="#000" text-anchor="start" font-weight="normal"  stroke="#000" stroke-width="0.12">-10</text>
<text x="238.7" y="143.1" font-size="7.6" fill="#000" text-anchor="end" font-weight="normal"  stroke="#000" stroke-width="0.2">10</text>
<text x="238.8" y="139.5" font-size="4.9" fill="#000" text-anchor="start" font-weight="normal"  stroke="#000" stroke-width="0.12">-9</text>
<text x="238.7" y="125.5" font-size="7.6" fill="#000" text-anchor="end" font-weight="normal"  stroke="#000" stroke-width="0.2">10</text>
<text x="238.8" y="121.9" font-size="4.9" fill="#000" text-anchor="start" font-weight="normal"  stroke="#000" stroke-width="0.12">-8</text>
<text x="238.7" y="107.9" font-size="7.6" fill="#000" text-anchor="end" font-weight="normal"  stroke="#000" stroke-width="0.2">10</text>
<text x="238.8" y="104.3" font-size="4.9" fill="#000" text-anchor="start" font-weight="normal"  stroke="#000" stroke-width="0.12">-7</text>
<text x="238.7" y="90.3" font-size="7.6" fill="#000" text-anchor="end" font-weight="normal"  stroke="#000" stroke-width="0.2">10</text>
<text x="238.8" y="86.7" font-size="4.9" fill="#000" text-anchor="start" font-weight="normal"  stroke="#000" stroke-width="0.12">-6</text>
<text x="238.7" y="72.7" font-size="7.6" fill="#000" text-anchor="end" font-weight="normal"  stroke="#000" stroke-width="0.2">10</text>
<text x="238.8" y="69.1" font-size="4.9" fill="#000" text-anchor="start" font-weight="normal"  stroke="#000" stroke-width="0.12">-5</text>
<text x="238.7" y="55.1" font-size="7.6" fill="#000" text-anchor="end" font-weight="normal"  stroke="#000" stroke-width="0.2">10</text>
<text x="238.8" y="51.5" font-size="4.9" fill="#000" text-anchor="start" font-weight="normal"  stroke="#000" stroke-width="0.12">-4</text>
<text x="238.7" y="37.5" font-size="7.6" fill="#000" text-anchor="end" font-weight="normal"  stroke="#000" stroke-width="0.2">10</text>
<text x="238.8" y="33.9" font-size="4.9" fill="#000" text-anchor="start" font-weight="normal"  stroke="#000" stroke-width="0.12">-3</text>
<text x="321.3" y="177.9" font-size="7.6" fill="#000" text-anchor="middle" font-weight="normal"  stroke="#000" stroke-width="0.2">Gate Voltage (V)</text>
<text x="0" y="0" font-size="7.6" fill="#000" text-anchor="middle" font-weight="normal" transform="translate(224,94) rotate(-90)" stroke="#000" stroke-width="0.2">Drain Current (A)</text>
<line x1="249.9" y1="31.3" x2="264.3" y2="31.3" stroke="#ef8d12" stroke-width="1.4" />
<line x1="249.9" y1="41" x2="264.3" y2="41" stroke="#22bde0" stroke-width="1.4" />
<text x="265.9" y="33.5" font-size="6.7" fill="#000" text-anchor="start" font-weight="normal"  stroke="#000" stroke-width="0.12" textLength="32.6" lengthAdjust="spacingAndGlyphs">V<tspan font-size="4.5" dy="1.8">DS</tspan><tspan dy="-1.8"> = 0.5 V</tspan></text>
<text x="265.9" y="43.4" font-size="6.7" fill="#000" text-anchor="start" font-weight="normal"  stroke="#000" stroke-width="0.12" textLength="26.8" lengthAdjust="spacingAndGlyphs">V<tspan font-size="4.5" dy="1.8">DS</tspan><tspan dy="-1.8"> = 1 V</tspan></text>
<line x1="270" y1="79.3" x2="325.5" y2="79.3" stroke="#000" stroke-width="0.9" />
<polygon points="268.6,79.3 273.5,77.3 273.5,81.3" fill="#000"/>
<polygon points="326.8,79.3 321.9,77.3 321.9,81.3" fill="#000"/>
<text x="273.1" y="90.5" font-size="6.9" fill="#000" text-anchor="start" font-weight="normal"  stroke="#000" stroke-width="0.12" textLength="48.4" lengthAdjust="spacingAndGlyphs">Memory window</text>
<line x1="261.6" y1="75" x2="260" y2="88" stroke="#000" stroke-width="1.1" />
<polygon points="259.3,91.2 257.7,86.6 261.6,87.1" fill="#000"/>
<line x1="340.5" y1="92" x2="342.6" y2="79" stroke="#000" stroke-width="1.1" />
<polygon points="343.4,75.8 340.6,79.6 344.6,80.2" fill="#000"/>
<text x="357.2" y="106.2" font-size="7.3" fill="#000" text-anchor="start" font-weight="normal"  stroke="#000" stroke-width="0.12" textLength="42.5" lengthAdjust="spacingAndGlyphs">Gate current</text>
<line x1="385.6" y1="109.8" x2="389.8" y2="119" stroke="#000" stroke-width="0.8" />
<polygon points="390.8,121.5 387.9,118.6 391.2,117.6" fill="#000"/>
<polyline points="473.01,157.4 475.36,155 477.7,152.59 480.04,150.17 482.38,147.75 484.72,145.31 487.06,142.88 489.4,140.43 491.75,137.98 494.09,135.52 496.43,133.05 498.77,130.58 501.11,128.1 503.45,125.61 505.79,123.11 508.14,120.61 510.48,118.1 512.82,115.58 515.16,113.06 517.5,110.53 519.84,107.99 522.18,105.44 524.53,102.89 526.87,100.33 529.21,97.77 531.55,95.19 533.89,92.61 536.23,90.02 538.57,87.43 540.92,84.83 543.26,82.22 545.6,79.6 547.94,76.98 550.28,74.35 552.62,71.71 554.96,69.07 557.31,66.41 559.65,63.76 561.99,61.09 564.33,58.42 566.67,55.74 569.01,53.05 571.35,50.35 573.7,47.65 576.04,44.94 578.38,42.23 580.72,39.51 583.06,36.78 585.4,34.04 587.74,31.29 590.09,28.54" fill="none" stroke="#ee1414" stroke-width="1.4" stroke-linejoin="round" stroke-linecap="round" />
<polyline points="473.01,157.4 475.36,156.33 477.7,156.06 480.04,155.37 482.38,153.96 484.72,153.9 487.06,152.69 489.4,151.76 491.75,150.85 494.09,150.48 496.43,149.08 498.77,148.33 501.11,147.04 503.45,147 505.79,145.07 508.14,144.95 510.48,143.3 512.82,142.65 515.16,141.3 517.5,140.99 519.84,139.82 522.18,139.03 524.53,137.24 526.87,136.43 529.21,135.7 531.55,134.62 533.89,133.63 536.23,132.38 538.57,130.86 540.92,129.84 543.26,128.39 545.6,127.88 547.94,125.87 550.28,124.51 552.62,123.55 554.96,122.3 557.31,120.94 559.65,120.48 561.99,118.81 564.33,117.92 566.67,115.87 569.01,114.8 571.35,113.93 573.7,112.22 576.04,110.5 578.38,109.36 580.72,108.42 583.06,106.15 585.4,105.66 587.74,103.39 590.09,102.3" fill="none" stroke="#ef8c22" stroke-width="1.4" stroke-linejoin="round" stroke-linecap="round" />
<polyline points="473.01,157.4 475.36,156.74 477.7,156.08 480.04,155.43 482.38,154.77 484.72,154.11 487.06,153.45 489.4,152.8 491.75,152.14 494.09,151.48 496.43,150.82 498.77,150.17 501.11,149.51 503.45,148.85 505.79,148.19 508.14,147.54 510.48,146.88 512.82,146.22 515.16,145.56 517.5,144.91 519.84,144.25 522.18,143.59 524.53,142.93 526.87,142.27 529.21,141.62 531.55,140.96 533.89,140.3 536.23,139.64 538.57,138.99 540.92,138.33 543.26,137.67 545.6,137.01 547.94,136.36 550.28,135.7 552.62,135.04 554.96,134.38 557.31,133.73 559.65,133.07 561.99,132.41 564.33,131.75 566.67,131.1 569.01,130.44 571.35,129.78 573.7,129.12 576.04,128.47 578.38,127.81 580.72,127.15 583.06,126.49 585.4,125.83 587.74,125.18 590.09,124.52" fill="none" stroke="#d2e02a" stroke-width="1.4" stroke-linejoin="round" stroke-linecap="round" />
<polyline points="473.01,157.4 475.36,156.98 477.7,156.56 480.04,156.14 482.38,155.72 484.72,155.29 487.06,154.87 489.4,154.45 491.75,154.03 494.09,153.61 496.43,153.19 498.77,152.77 501.11,152.35 503.45,151.92 505.79,151.5 508.14,151.08 510.48,150.66 512.82,150.24 515.16,149.82 517.5,149.4 519.84,148.98 522.18,148.55 524.53,148.13 526.87,147.71 529.21,147.29 531.55,146.87 533.89,146.45 536.23,146.03 538.57,145.61 540.92,145.18 543.26,144.76 545.6,144.34 547.94,143.92 550.28,143.5 552.62,143.08 554.96,142.66 557.31,142.24 559.65,141.81 561.99,141.39 564.33,140.97 566.67,140.55 569.01,140.13 571.35,139.71 573.7,139.29 576.04,138.87 578.38,138.44 580.72,138.02 583.06,137.6 585.4,137.18 587.74,136.76 590.09,136.34" fill="none" stroke="#80dc1c" stroke-width="1.4" stroke-linejoin="round" stroke-linecap="round" />
<polyline points="473.01,157.4 475.36,157.14 477.7,156.87 480.04,156.61 482.38,156.35 484.72,156.08 487.06,155.82 489.4,155.56 491.75,155.3 494.09,155.03 496.43,154.77 498.77,154.51 501.11,154.24 503.45,153.98 505.79,153.72 508.14,153.45 510.48,153.19 512.82,152.93 515.16,152.67 517.5,152.4 519.84,152.14 522.18,151.88 524.53,151.61 526.87,151.35 529.21,151.09 531.55,150.82 533.89,150.56 536.23,150.3 538.57,150.03 540.92,149.77 543.26,149.51 545.6,149.25 547.94,148.98 550.28,148.72 552.62,148.46 554.96,148.19 557.31,147.93 559.65,147.67 561.99,147.4 564.33,147.14 566.67,146.88 569.01,146.62 571.35,146.35 573.7,146.09 576.04,145.83 578.38,145.56 580.72,145.3 583.06,145.04 585.4,144.77 587.74,144.51 590.09,144.25" fill="none" stroke="#3898e8" stroke-width="1.4" stroke-linejoin="round" stroke-linecap="round" />
<polyline points="473.01,157.4 475.36,157.2 477.7,157.01 480.04,156.81 482.38,156.62 484.72,156.42 487.06,156.23 489.4,156.03 491.75,155.84 494.09,155.64 496.43,155.44 498.77,155.25 501.11,155.05 503.45,154.86 505.79,154.66 508.14,154.47 510.48,154.27 512.82,154.08 515.16,153.88 517.5,153.69 519.84,153.49 522.18,153.29 524.53,153.1 526.87,152.9 529.21,152.71 531.55,152.51 533.89,152.32 536.23,152.12 538.57,151.93 540.92,151.73 543.26,151.53 545.6,151.34 547.94,151.14 550.28,150.95 552.62,150.75 554.96,150.56 557.31,150.36 559.65,150.17 561.99,149.97 564.33,149.78 566.67,149.58 569.01,149.38 571.35,149.19 573.7,148.99 576.04,148.8 578.38,148.6 580.72,148.41 583.06,148.21 585.4,148.02 587.74,147.82 590.09,147.62" fill="none" stroke="#3848d8" stroke-width="1.4" stroke-linejoin="round" stroke-linecap="round" />
<polyline points="473.01,157.4 475.36,157.3 477.7,157.2 480.04,157.1 482.38,157 484.72,156.9 487.06,156.8 489.4,156.7 491.75,156.6 494.09,156.5 496.43,156.4 498.77,156.31 501.11,156.21 503.45,156.11 505.79,156.01 508.14,155.91 510.48,155.81 512.82,155.71 515.16,155.61 517.5,155.51 519.84,155.41 522.18,155.31 524.53,155.21 526.87,155.11 529.21,155.01 531.55,154.91 533.89,154.81 536.23,154.71 538.57,154.61 540.92,154.51 543.26,154.41 545.6,154.31 547.94,154.22 550.28,154.12 552.62,154.02 554.96,153.92 557.31,153.82 559.65,153.72 561.99,153.62 564.33,153.52 566.67,153.42 569.01,153.32 571.35,153.22 573.7,153.12 576.04,153.02 578.38,152.92 580.72,152.82 583.06,152.72 585.4,152.62 587.74,152.52 590.09,152.42" fill="none" stroke="#3414d8" stroke-width="1.4" stroke-linejoin="round" stroke-linecap="round" />
<polyline points="473.01,157.4 475.36,157.32 477.7,157.25 480.04,157.17 482.38,157.09 484.72,157.02 487.06,156.94 489.4,156.87 491.75,156.79 494.09,156.71 496.43,156.64 498.77,156.56 501.11,156.48 503.45,156.41 505.79,156.33 508.14,156.25 510.48,156.18 512.82,156.1 515.16,156.02 517.5,155.95 519.84,155.87 522.18,155.8 524.53,155.72 526.87,155.64 529.21,155.57 531.55,155.49 533.89,155.41 536.23,155.34 538.57,155.26 540.92,155.18 543.26,155.11 545.6,155.03 547.94,154.95 550.28,154.88 552.62,154.8 554.96,154.73 557.31,154.65 559.65,154.57 561.99,154.5 564.33,154.42 566.67,154.34 569.01,154.27 571.35,154.19 573.7,154.11 576.04,154.04 578.38,153.96 580.72,153.88 583.06,153.81 585.4,153.73 587.74,153.66 590.09,153.58" fill="none" stroke="#7a12e6" stroke-width="1.4" stroke-linejoin="round" stroke-linecap="round" />
<polyline points="473.01,157.4 475.36,157.35 477.7,157.29 480.04,157.24 482.38,157.19 484.72,157.13 487.06,157.08 489.4,157.03 491.75,156.97 494.09,156.92 496.43,156.87 498.77,156.81 501.11,156.76 503.45,156.71 505.79,156.65 508.14,156.6 510.48,156.55 512.82,156.49 515.16,156.44 517.5,156.39 519.84,156.33 522.18,156.28 524.53,156.23 526.87,156.17 529.21,156.12 531.55,156.07 533.89,156.01 536.23,155.96 538.57,155.91 540.92,155.85 543.26,155.8 545.6,155.75 547.94,155.69 550.28,155.64 552.62,155.59 554.96,155.53 557.31,155.48 559.65,155.43 561.99,155.37 564.33,155.32 566.67,155.27 569.01,155.21 571.35,155.16 573.7,155.11 576.04,155.05 578.38,155 580.72,154.95 583.06,154.89 585.4,154.84 587.74,154.79 590.09,154.73" fill="none" stroke="#b010d0" stroke-width="1.4" stroke-linejoin="round" stroke-linecap="round" />
<polyline points="473.01,157.4 475.36,157.37 477.7,157.34 480.04,157.3 482.38,157.27 484.72,157.24 487.06,157.21 489.4,157.18 491.75,157.14 494.09,157.11 496.43,157.08 498.77,157.05 501.11,157.02 503.45,156.98 505.79,156.95 508.14,156.92 510.48,156.89 512.82,156.86 515.16,156.82 517.5,156.79 519.84,156.76 522.18,156.73 524.53,156.7 526.87,156.66 529.21,156.63 531.55,156.6 533.89,156.57 536.23,156.54 538.57,156.5 540.92,156.47 543.26,156.44 545.6,156.41 547.94,156.38 550.28,156.34 552.62,156.31 554.96,156.28 557.31,156.25 559.65,156.22 561.99,156.18 564.33,156.15 566.67,156.12 569.01,156.09 571.35,156.06 573.7,156.02 576.04,155.99 578.38,155.96 580.72,155.93 583.06,155.9 585.4,155.86 587.74,155.83 590.09,155.8" fill="none" stroke="#2cc4ee" stroke-width="1.4" stroke-linejoin="round" stroke-linecap="round" />
<polyline points="473.01,157.4 475.36,157.39 477.7,157.38 480.04,157.37 482.38,157.36 484.72,157.35 487.06,157.34 489.4,157.33 491.75,157.31 494.09,157.3 496.43,157.29 498.77,157.28 501.11,157.27 503.45,157.26 505.79,157.25 508.14,157.24 510.48,157.23 512.82,157.22 515.16,157.21 517.5,157.2 519.84,157.19 522.18,157.18 524.53,157.17 526.87,157.15 529.21,157.14 531.55,157.13 533.89,157.12 536.23,157.11 538.57,157.1 540.92,157.09 543.26,157.08 545.6,157.07 547.94,157.06 550.28,157.05 552.62,157.04 554.96,157.03 557.31,157.02 559.65,157.01 561.99,156.99 564.33,156.98 566.67,156.97 569.01,156.96 571.35,156.95 573.7,156.94 576.04,156.93 578.38,156.92 580.72,156.91 583.06,156.9 585.4,156.89 587.74,156.88 590.09,156.87" fill="none" stroke="#1030c0" stroke-width="1.4" stroke-linejoin="round" stroke-linecap="round" />
<rect x="449.6" y="24.1" width="163.89999999999998" height="133.3" fill="none" stroke="#727272" stroke-width="1"/>
<line x1="449.6" y1="157.4" x2="449.6" y2="154.9" stroke="#727272" stroke-width="0.9" />
<text x="449.6" y="166.8" font-size="8" fill="#000" text-anchor="middle" font-weight="normal"  stroke="#000" stroke-width="0.2">-1</text>
<line x1="461.31" y1="157.4" x2="461.31" y2="155.9" stroke="#727272" stroke-width="0.9" />
<line x1="473.01" y1="157.4" x2="473.01" y2="154.9" stroke="#727272" stroke-width="0.9" />
<text x="473.01" y="166.8" font-size="8" fill="#000" text-anchor="middle" font-weight="normal"  stroke="#000" stroke-width="0.2">0</text>
<line x1="484.72" y1="157.4" x2="484.72" y2="155.9" stroke="#727272" stroke-width="0.9" />
<line x1="496.43" y1="157.4" x2="496.43" y2="154.9" stroke="#727272" stroke-width="0.9" />
<text x="496.43" y="166.8" font-size="8" fill="#000" text-anchor="middle" font-weight="normal"  stroke="#000" stroke-width="0.2">1</text>
<line x1="508.14" y1="157.4" x2="508.14" y2="155.9" stroke="#727272" stroke-width="0.9" />
<line x1="519.84" y1="157.4" x2="519.84" y2="154.9" stroke="#727272" stroke-width="0.9" />
<text x="519.84" y="166.8" font-size="8" fill="#000" text-anchor="middle" font-weight="normal"  stroke="#000" stroke-width="0.2">2</text>
<line x1="531.55" y1="157.4" x2="531.55" y2="155.9" stroke="#727272" stroke-width="0.9" />
<line x1="543.26" y1="157.4" x2="543.26" y2="154.9" stroke="#727272" stroke-width="0.9" />
<text x="543.26" y="166.8" font-size="8" fill="#000" text-anchor="middle" font-weight="normal"  stroke="#000" stroke-width="0.2">3</text>
<line x1="554.96" y1="157.4" x2="554.96" y2="155.9" stroke="#727272" stroke-width="0.9" />
<line x1="566.67" y1="157.4" x2="566.67" y2="154.9" stroke="#727272" stroke-width="0.9" />
<text x="566.67" y="166.8" font-size="8" fill="#000" text-anchor="middle" font-weight="normal"  stroke="#000" stroke-width="0.2">4</text>
<line x1="578.38" y1="157.4" x2="578.38" y2="155.9" stroke="#727272" stroke-width="0.9" />
<line x1="590.09" y1="157.4" x2="590.09" y2="154.9" stroke="#727272" stroke-width="0.9" />
<text x="590.09" y="166.8" font-size="8" fill="#000" text-anchor="middle" font-weight="normal"  stroke="#000" stroke-width="0.2">5</text>
<line x1="601.79" y1="157.4" x2="601.79" y2="155.9" stroke="#727272" stroke-width="0.9" />
<line x1="613.5" y1="157.4" x2="613.5" y2="154.9" stroke="#727272" stroke-width="0.9" />
<text x="613.5" y="166.8" font-size="8" fill="#000" text-anchor="middle" font-weight="normal"  stroke="#000" stroke-width="0.2">6</text>
<line x1="449.6" y1="157.4" x2="452.1" y2="157.4" stroke="#727272" stroke-width="0.9" />
<text x="446.7" y="159.3" font-size="8" fill="#000" text-anchor="end" font-weight="normal"  stroke="#000" stroke-width="0.2">0.0</text>
<line x1="449.6" y1="144.07" x2="451.1" y2="144.07" stroke="#727272" stroke-width="0.9" />
<line x1="449.6" y1="130.74" x2="452.1" y2="130.74" stroke="#727272" stroke-width="0.9" />
<text x="446.7" y="132.64" font-size="8" fill="#000" text-anchor="end" font-weight="normal"  stroke="#000" stroke-width="0.2">0.3</text>
<line x1="449.6" y1="117.41" x2="451.1" y2="117.41" stroke="#727272" stroke-width="0.9" />
<line x1="449.6" y1="104.08" x2="452.1" y2="104.08" stroke="#727272" stroke-width="0.9" />
<text x="446.7" y="105.98" font-size="8" fill="#000" text-anchor="end" font-weight="normal"  stroke="#000" stroke-width="0.2">0.6</text>
<line x1="449.6" y1="90.75" x2="451.1" y2="90.75" stroke="#727272" stroke-width="0.9" />
<line x1="449.6" y1="77.42" x2="452.1" y2="77.42" stroke="#727272" stroke-width="0.9" />
<text x="446.7" y="79.32" font-size="8" fill="#000" text-anchor="end" font-weight="normal"  stroke="#000" stroke-width="0.2">0.9</text>
<line x1="449.6" y1="64.09" x2="451.1" y2="64.09" stroke="#727272" stroke-width="0.9" />
<line x1="449.6" y1="50.76" x2="452.1" y2="50.76" stroke="#727272" stroke-width="0.9" />
<text x="446.7" y="52.66" font-size="8" fill="#000" text-anchor="end" font-weight="normal"  stroke="#000" stroke-width="0.2">1.2</text>
<line x1="449.6" y1="37.43" x2="451.1" y2="37.43" stroke="#727272" stroke-width="0.9" />
<line x1="449.6" y1="24.1" x2="452.1" y2="24.1" stroke="#727272" stroke-width="0.9" />
<text x="446.7" y="26" font-size="8" fill="#000" text-anchor="end" font-weight="normal"  stroke="#000" stroke-width="0.2">1.5</text>
<text x="531.6" y="179.8" font-size="7.9" fill="#000" text-anchor="middle" font-weight="normal"  stroke="#000" stroke-width="0.2">Drain Voltage (V)</text>
<text x="0" y="0" font-size="7.8" fill="#000" text-anchor="middle" font-weight="normal" transform="translate(430.6,95.7) rotate(-90)" stroke="#000" stroke-width="0.2">Drain Current (mA)</text>
<text x="457.3" y="36.3" font-size="6.6" fill="#000" text-anchor="start" font-weight="normal" xml:space="preserve" stroke="#000" stroke-width="0.12">V<tspan font-size="4.5" dy="1.5">GS</tspan><tspan dy="-1.5"> from -30 V  to 30 V</tspan></text>
<polygon points="42.5,251 109.3,251 109.3,300.4 42.5,300.4" fill="#62cbf8"/>
<path d="M42.5,300.4 H109.3 V338.8 C100,341 96,343 90,342.3 C78,341 68,332 57.7,332.7 C50,333.3 46,335.5 42.5,336.7 Z" fill="#abb7c9"/>
<rect x="56.1" y="222" width="53.2" height="29.2" fill="#f99797" />
<rect x="74.2" y="217.2" width="21.1" height="4.6" fill="#6b6b6b" />
<rect x="42.8" y="246.8" width="9.7" height="4" fill="#6b6b6b" />
<line x1="56.1" y1="248.2" x2="109.3" y2="248.2" stroke="#7a7a7a" stroke-width="0.8" stroke-dasharray="1.6,1.2"/>
<line x1="56.1" y1="253.3" x2="109.3" y2="253.3" stroke="#7a7a7a" stroke-width="0.8" stroke-dasharray="1.6,1.2"/>
<line x1="109.3" y1="248.2" x2="125.3" y2="221.6" stroke="#8a8a8a" stroke-width="0.7" />
<line x1="109.3" y1="253.3" x2="125.3" y2="341" stroke="#8a8a8a" stroke-width="0.7" />
<text x="76.4" y="215.3" font-size="8.4" fill="#000" text-anchor="start" font-weight="normal"  stroke="#000" stroke-width="0.05" textLength="21.6" lengthAdjust="spacingAndGlyphs">Ti/Au</text>
<text x="61.5" y="233.8" font-size="7.7" fill="#000" text-anchor="start" font-weight="normal"  stroke="#000" stroke-width="0.05" textLength="41.6" lengthAdjust="spacingAndGlyphs">Sc<tspan font-size="5.3" dy="1.3">0.18</tspan><tspan dy="-1.3">Al</tspan><tspan font-size="5.3" dy="1.3">0.82</tspan><tspan dy="-1.3">N</tspan></text>
<text x="67.1" y="245.1" font-size="7.8" fill="#000" text-anchor="start" font-weight="normal"  stroke="#000" stroke-width="0.05" textLength="30.6" lengthAdjust="spacingAndGlyphs">~100 nm</text>
<text x="61" y="272.4" font-size="9.4" fill="#000" text-anchor="start" font-weight="normal"  stroke="#000" stroke-width="0.05" textLength="28.6" lengthAdjust="spacingAndGlyphs">n-GaN</text>
<text x="50.5" y="289.2" font-size="9" fill="#000" text-anchor="start" font-weight="normal" xml:space="preserve" stroke="#000" stroke-width="0.05" textLength="50.4" lengthAdjust="spacingAndGlyphs">1 × 10<tspan font-size="6.4" dy="-3.6">19</tspan><tspan dy="3.6"> cm</tspan><tspan font-size="6.4" dy="-3.6">-3</tspan></text>
<text x="56" y="313.4" font-size="10" fill="#000" text-anchor="start" font-weight="normal"  stroke="#000" stroke-width="0.05" textLength="38.6" lengthAdjust="spacingAndGlyphs">Sapphire</text>
<rect x="125.3" y="221.6" width="60" height="119.5" fill="url(#tem)"/>
<rect x="125.3" y="221.6" width="60" height="76" fill="url(#latd)"/>
<polygon points="125.3,297 185.3,294 185.3,341.1 125.3,341.1" fill="url(#lat)"/>
<polygon points="125.3,296 185.3,293 185.3,303 125.3,306" fill="url(#temfade)"/>
<text x="155" y="235.5" font-size="10" fill="#fff" text-anchor="middle" font-weight="normal"  stroke="#fff" stroke-width="0.1">Sc<tspan font-size="6.5" dy="2">0.18</tspan><tspan dy="-2">Al</tspan><tspan font-size="6.5" dy="2">0.82</tspan><tspan dy="-2">N</tspan></text>
<text x="131.5" y="320.1" font-size="9" fill="#fff" text-anchor="start" font-weight="normal"  stroke="#fff" stroke-width="0.1" textLength="19.6" lengthAdjust="spacingAndGlyphs">GaN</text>
<rect x="162.6" y="324.3" width="17" height="1.7" fill="#fff" />
<text x="161.4" y="336.5" font-size="9.2" fill="#fff" text-anchor="start" font-weight="normal"  stroke="#fff" stroke-width="0.1" textLength="21.3" lengthAdjust="spacingAndGlyphs">2 nm</text>
<polyline points="255.5,312.8 260.9,320 265.3,314.6 270,323.6 274.7,307 279.8,282.8 284.6,257.6 289.5,247 293.9,244.6" fill="none" stroke="#f03c3c" stroke-width="0.9" stroke-linejoin="round" stroke-linecap="round" />
<polyline points="265.3,323.6 270,323.6 274.7,322 284.4,331.4 294.1,322.2 303.8,325.4 313.5,322.6 323.2,322.6" fill="none" stroke="#f03c3c" stroke-width="0.9" stroke-linejoin="round" stroke-linecap="round" stroke-dasharray="2.4,1.6"/>
<polyline points="323.2,331.1 328.1,331.9 333,331.9 337.5,330.7 342.2,332.7 347,325.4 351.9,326.7 356.5,327.5 361.5,330.8 367,326.5 371.3,301.9 375.8,301.9 380.5,266.3 385.5,240.5 390.5,237.5 394.4,236.5" fill="none" stroke="#f03c3c" stroke-width="0.9" stroke-linejoin="round" stroke-linecap="round" />
<polyline points="293.9,244.6 303.6,243 313.4,243.3 323.2,243.5 332.8,244.7 342.6,243.8 352.4,241.4 362.3,242.4 366.7,241.4 371.5,240 376.2,239.5 380.7,238.6 386,238.5 390.5,237.5 394.4,236.5" fill="none" stroke="#f03c3c" stroke-width="0.9" stroke-linejoin="round" stroke-linecap="round" stroke-dasharray="2.4,1.6"/>
<polyline points="255.5,327.6 260.6,325.4 260.6,328 265.3,328.4 270,328 274.7,329 284.4,327.6 294.1,327 303.8,327.3 313.5,326.9 323.2,328.2 328.1,330.3 333,330.3 337.5,327 342.2,330.3 347,328.2 351.9,329.4 356.5,330.7 361.5,326.5 366.4,327.5 371.3,327 376.4,326.3" fill="none" stroke="#1e78e6" stroke-width="0.9" stroke-linejoin="round" stroke-linecap="round" stroke-dasharray="2.4,1.6"/>
<polyline points="394.4,243.3 391.2,243 386.2,245 380.7,239.6 376.3,239.6 371.5,242 366.6,240.8 362,246.1 352.2,244 342.4,240.1 332.7,241 313.4,249.8 303.6,244.6 293.9,246.2 289.5,256.5 284.6,269.3 279.8,302.7 274.7,320 274.7,329" fill="none" stroke="#1e78e6" stroke-width="0.9" stroke-linejoin="round" stroke-linecap="round" />
<polyline points="376.4,326.3 380.9,260.8 386.2,245.9 391.3,242.9 394.3,242.9" fill="none" stroke="#1e78e6" stroke-width="0.9" stroke-linejoin="round" stroke-linecap="round" />
<rect x="253.5" y="310.8" width="4" height="4" fill="#f03c3c" />
<rect x="258.9" y="318" width="4" height="4" fill="#f03c3c" />
<rect x="263.3" y="312.6" width="4" height="4" fill="#f03c3c" />
<rect x="268" y="321.6" width="4" height="4" fill="#f03c3c" />
<rect x="272.7" y="305" width="4" height="4" fill="#f03c3c" />
<rect x="277.8" y="280.8" width="4" height="4" fill="#f03c3c" />
<rect x="282.6" y="255.6" width="4" height="4" fill="#f03c3c" />
<rect x="287.5" y="245" width="4" height="4" fill="#f03c3c" />
<rect x="291.9" y="242.6" width="4" height="4" fill="#f03c3c" />
<rect x="263.3" y="321.6" width="4" height="4" fill="#f03c3c" />
<rect x="268" y="321.6" width="4" height="4" fill="#f03c3c" />
<rect x="272.7" y="320" width="4" height="4" fill="#f03c3c" />
<rect x="282.4" y="329.4" width="4" height="4" fill="#f03c3c" />
<rect x="292.1" y="320.2" width="4" height="4" fill="#f03c3c" />
<rect x="301.8" y="323.4" width="4" height="4" fill="#f03c3c" />
<rect x="311.5" y="320.6" width="4" height="4" fill="#f03c3c" />
<rect x="321.2" y="320.6" width="4" height="4" fill="#f03c3c" />
<rect x="321.2" y="329.1" width="4" height="4" fill="#f03c3c" />
<rect x="326.1" y="329.9" width="4" height="4" fill="#f03c3c" />
<rect x="331" y="329.9" width="4" height="4" fill="#f03c3c" />
<rect x="335.5" y="328.7" width="4" height="4" fill="#f03c3c" />
<rect x="340.2" y="330.7" width="4" height="4" fill="#f03c3c" />
<rect x="345" y="323.4" width="4" height="4" fill="#f03c3c" />
<rect x="349.9" y="324.7" width="4" height="4" fill="#f03c3c" />
<rect x="354.5" y="325.5" width="4" height="4" fill="#f03c3c" />
<rect x="359.5" y="328.8" width="4" height="4" fill="#f03c3c" />
<rect x="365" y="324.5" width="4" height="4" fill="#f03c3c" />
<rect x="369.3" y="299.9" width="4" height="4" fill="#f03c3c" />
<rect x="373.8" y="299.9" width="4" height="4" fill="#f03c3c" />
<rect x="378.5" y="264.3" width="4" height="4" fill="#f03c3c" />
<rect x="383.5" y="238.5" width="4" height="4" fill="#f03c3c" />
<rect x="388.5" y="235.5" width="4" height="4" fill="#f03c3c" />
<rect x="392.4" y="234.5" width="4" height="4" fill="#f03c3c" />
<rect x="291.9" y="242.6" width="4" height="4" fill="#f03c3c" />
<rect x="301.6" y="241" width="4" height="4" fill="#f03c3c" />
<rect x="311.4" y="241.3" width="4" height="4" fill="#f03c3c" />
<rect x="321.2" y="241.5" width="4" height="4" fill="#f03c3c" />
<rect x="330.8" y="242.7" width="4" height="4" fill="#f03c3c" />
<rect x="340.6" y="241.8" width="4" height="4" fill="#f03c3c" />
<rect x="350.4" y="239.4" width="4" height="4" fill="#f03c3c" />
<rect x="360.3" y="240.4" width="4" height="4" fill="#f03c3c" />
<rect x="364.7" y="239.4" width="4" height="4" fill="#f03c3c" />
<rect x="369.5" y="238" width="4" height="4" fill="#f03c3c" />
<rect x="374.2" y="237.5" width="4" height="4" fill="#f03c3c" />
<rect x="378.7" y="236.6" width="4" height="4" fill="#f03c3c" />
<rect x="384" y="236.5" width="4" height="4" fill="#f03c3c" />
<rect x="388.5" y="235.5" width="4" height="4" fill="#f03c3c" />
<rect x="392.4" y="234.5" width="4" height="4" fill="#f03c3c" />
<rect x="253.5" y="325.6" width="4" height="4" fill="#1e78e6" />
<rect x="258.6" y="323.4" width="4" height="4" fill="#1e78e6" />
<rect x="258.6" y="326" width="4" height="4" fill="#1e78e6" />
<rect x="263.3" y="326.4" width="4" height="4" fill="#1e78e6" />
<rect x="268" y="326" width="4" height="4" fill="#1e78e6" />
<rect x="272.7" y="327" width="4" height="4" fill="#1e78e6" />
<rect x="282.4" y="325.6" width="4" height="4" fill="#1e78e6" />
<rect x="292.1" y="325" width="4" height="4" fill="#1e78e6" />
<rect x="301.8" y="325.3" width="4" height="4" fill="#1e78e6" />
<rect x="311.5" y="324.9" width="4" height="4" fill="#1e78e6" />
<rect x="321.2" y="326.2" width="4" height="4" fill="#1e78e6" />
<rect x="326.1" y="328.3" width="4" height="4" fill="#1e78e6" />
<rect x="331" y="328.3" width="4" height="4" fill="#1e78e6" />
<rect x="335.5" y="325" width="4" height="4" fill="#1e78e6" />
<rect x="340.2" y="328.3" width="4" height="4" fill="#1e78e6" />
<rect x="345" y="326.2" width="4" height="4" fill="#1e78e6" />
<rect x="349.9" y="327.4" width="4" height="4" fill="#1e78e6" />
<rect x="354.5" y="328.7" width="4" height="4" fill="#1e78e6" />
<rect x="359.5" y="324.5" width="4" height="4" fill="#1e78e6" />
<rect x="364.4" y="325.5" width="4" height="4" fill="#1e78e6" />
<rect x="369.3" y="325" width="4" height="4" fill="#1e78e6" />
<rect x="374.4" y="324.3" width="4" height="4" fill="#1e78e6" />
<rect x="392.4" y="241.3" width="4" height="4" fill="#1e78e6" />
<rect x="389.2" y="241" width="4" height="4" fill="#1e78e6" />
<rect x="384.2" y="243" width="4" height="4" fill="#1e78e6" />
<rect x="378.7" y="237.6" width="4" height="4" fill="#1e78e6" />
<rect x="374.3" y="237.6" width="4" height="4" fill="#1e78e6" />
<rect x="369.5" y="240" width="4" height="4" fill="#1e78e6" />
<rect x="364.6" y="238.8" width="4" height="4" fill="#1e78e6" />
<rect x="360" y="244.1" width="4" height="4" fill="#1e78e6" />
<rect x="350.2" y="242" width="4" height="4" fill="#1e78e6" />
<rect x="340.4" y="238.1" width="4" height="4" fill="#1e78e6" />
<rect x="330.7" y="239" width="4" height="4" fill="#1e78e6" />
<rect x="311.4" y="247.8" width="4" height="4" fill="#1e78e6" />
<rect x="301.6" y="242.6" width="4" height="4" fill="#1e78e6" />
<rect x="291.9" y="244.2" width="4" height="4" fill="#1e78e6" />
<rect x="287.5" y="254.5" width="4" height="4" fill="#1e78e6" />
<rect x="282.6" y="267.3" width="4" height="4" fill="#1e78e6" />
<rect x="277.8" y="300.7" width="4" height="4" fill="#1e78e6" />
<rect x="272.7" y="318" width="4" height="4" fill="#1e78e6" />
<rect x="272.7" y="327" width="4" height="4" fill="#1e78e6" />
<rect x="374.4" y="324.3" width="4" height="4" fill="#1e78e6" />
<rect x="378.9" y="258.8" width="4" height="4" fill="#1e78e6" />
<rect x="384.2" y="243.9" width="4" height="4" fill="#1e78e6" />
<rect x="389.3" y="240.9" width="4" height="4" fill="#1e78e6" />
<rect x="392.3" y="240.9" width="4" height="4" fill="#1e78e6" />
<line x1="246" y1="218" x2="404.2" y2="218" stroke="#000" stroke-width="1.6" />
<line x1="246" y1="342.8" x2="404.2" y2="342.8" stroke="#000" stroke-width="1.3" />
<line x1="246" y1="218" x2="246" y2="342.8" stroke="#f03c3c" stroke-width="1.3" />
<line x1="404.2" y1="218" x2="404.2" y2="342.8" stroke="#1e78e6" stroke-width="1.6" />
<line x1="245.7" y1="342.8" x2="245.7" y2="340.3" stroke="#000" stroke-width="0.9" />
<line x1="245.7" y1="218" x2="245.7" y2="220.5" stroke="#000" stroke-width="0.9" />
<line x1="255.4" y1="342.8" x2="255.4" y2="341.2" stroke="#000" stroke-width="0.9" />
<line x1="255.4" y1="218" x2="255.4" y2="219.6" stroke="#000" stroke-width="0.9" />
<line x1="265.1" y1="342.8" x2="265.1" y2="340.3" stroke="#000" stroke-width="0.9" />
<line x1="265.1" y1="218" x2="265.1" y2="220.5" stroke="#000" stroke-width="0.9" />
<line x1="274.8" y1="342.8" x2="274.8" y2="341.2" stroke="#000" stroke-width="0.9" />
<line x1="274.8" y1="218" x2="274.8" y2="219.6" stroke="#000" stroke-width="0.9" />
<line x1="284.5" y1="342.8" x2="284.5" y2="340.3" stroke="#000" stroke-width="0.9" />
<line x1="284.5" y1="218" x2="284.5" y2="220.5" stroke="#000" stroke-width="0.9" />
<line x1="294.2" y1="342.8" x2="294.2" y2="341.2" stroke="#000" stroke-width="0.9" />
<line x1="294.2" y1="218" x2="294.2" y2="219.6" stroke="#000" stroke-width="0.9" />
<line x1="303.9" y1="342.8" x2="303.9" y2="340.3" stroke="#000" stroke-width="0.9" />
<line x1="303.9" y1="218" x2="303.9" y2="220.5" stroke="#000" stroke-width="0.9" />
<line x1="313.6" y1="342.8" x2="313.6" y2="341.2" stroke="#000" stroke-width="0.9" />
<line x1="313.6" y1="218" x2="313.6" y2="219.6" stroke="#000" stroke-width="0.9" />
<line x1="323.3" y1="342.8" x2="323.3" y2="340.3" stroke="#000" stroke-width="0.9" />
<line x1="323.3" y1="218" x2="323.3" y2="220.5" stroke="#000" stroke-width="0.9" />
<line x1="333" y1="342.8" x2="333" y2="341.2" stroke="#000" stroke-width="0.9" />
<line x1="333" y1="218" x2="333" y2="219.6" stroke="#000" stroke-width="0.9" />
<line x1="342.7" y1="342.8" x2="342.7" y2="340.3" stroke="#000" stroke-width="0.9" />
<line x1="342.7" y1="218" x2="342.7" y2="220.5" stroke="#000" stroke-width="0.9" />
<line x1="352.4" y1="342.8" x2="352.4" y2="341.2" stroke="#000" stroke-width="0.9" />
<line x1="352.4" y1="218" x2="352.4" y2="219.6" stroke="#000" stroke-width="0.9" />
<line x1="362.1" y1="342.8" x2="362.1" y2="340.3" stroke="#000" stroke-width="0.9" />
<line x1="362.1" y1="218" x2="362.1" y2="220.5" stroke="#000" stroke-width="0.9" />
<line x1="371.8" y1="342.8" x2="371.8" y2="341.2" stroke="#000" stroke-width="0.9" />
<line x1="371.8" y1="218" x2="371.8" y2="219.6" stroke="#000" stroke-width="0.9" />
<line x1="381.5" y1="342.8" x2="381.5" y2="340.3" stroke="#000" stroke-width="0.9" />
<line x1="381.5" y1="218" x2="381.5" y2="220.5" stroke="#000" stroke-width="0.9" />
<line x1="391.2" y1="342.8" x2="391.2" y2="341.2" stroke="#000" stroke-width="0.9" />
<line x1="391.2" y1="218" x2="391.2" y2="219.6" stroke="#000" stroke-width="0.9" />
<line x1="400.9" y1="342.8" x2="400.9" y2="340.3" stroke="#000" stroke-width="0.9" />
<line x1="400.9" y1="218" x2="400.9" y2="220.5" stroke="#000" stroke-width="0.9" />
<text x="245.7" y="354.4" font-size="8.4" fill="#000" text-anchor="middle" font-weight="normal"  stroke="#000" stroke-width="0.2">-40</text>
<text x="265.1" y="354.4" font-size="8.4" fill="#000" text-anchor="middle" font-weight="normal"  stroke="#000" stroke-width="0.2">-30</text>
<text x="284.5" y="354.4" font-size="8.4" fill="#000" text-anchor="middle" font-weight="normal"  stroke="#000" stroke-width="0.2">-20</text>
<text x="303.9" y="354.4" font-size="8.4" fill="#000" text-anchor="middle" font-weight="normal"  stroke="#000" stroke-width="0.2">-10</text>
<text x="323.3" y="354.4" font-size="8.4" fill="#000" text-anchor="middle" font-weight="normal"  stroke="#000" stroke-width="0.2">0</text>
<text x="342.7" y="354.4" font-size="8.4" fill="#000" text-anchor="middle" font-weight="normal"  stroke="#000" stroke-width="0.2">10</text>
<text x="362.1" y="354.4" font-size="8.4" fill="#000" text-anchor="middle" font-weight="normal"  stroke="#000" stroke-width="0.2">20</text>
<text x="381.5" y="354.4" font-size="8.4" fill="#000" text-anchor="middle" font-weight="normal"  stroke="#000" stroke-width="0.2">30</text>
<text x="400.9" y="354.4" font-size="8.4" fill="#000" text-anchor="middle" font-weight="normal"  stroke="#000" stroke-width="0.2">40</text>
<text x="295.4" y="367.5" font-size="11.7" fill="#000" text-anchor="start" font-weight="normal"  stroke="#000" stroke-width="0.1" textLength="58.6" lengthAdjust="spacingAndGlyphs">Voltage (V)</text>
<line x1="246" y1="258.9" x2="248.8" y2="258.9" stroke="#f03c3c" stroke-width="1" />
<text x="240.4" y="262.3" font-size="8.2" fill="#f03c3c" text-anchor="end" font-weight="normal"  stroke="#f03c3c" stroke-width="0.2">10</text>
<text x="240.5" y="258.6" font-size="5.3" fill="#f03c3c" text-anchor="start" font-weight="normal"  stroke="#f03c3c" stroke-width="0.12">-9</text>
<line x1="246" y1="301.6" x2="248.8" y2="301.6" stroke="#f03c3c" stroke-width="1" />
<text x="237.6" y="305" font-size="8.2" fill="#f03c3c" text-anchor="end" font-weight="normal"  stroke="#f03c3c" stroke-width="0.2">10</text>
<text x="237.7" y="301.3" font-size="5.3" fill="#f03c3c" text-anchor="start" font-weight="normal"  stroke="#f03c3c" stroke-width="0.12">-10</text>
<line x1="246" y1="331.45" x2="247.6" y2="331.45" stroke="#f03c3c" stroke-width="0.8" />
<line x1="246" y1="323.93" x2="247.6" y2="323.93" stroke="#f03c3c" stroke-width="0.8" />
<line x1="246" y1="318.59" x2="247.6" y2="318.59" stroke="#f03c3c" stroke-width="0.8" />
<line x1="246" y1="314.45" x2="247.6" y2="314.45" stroke="#f03c3c" stroke-width="0.8" />
<line x1="246" y1="311.07" x2="247.6" y2="311.07" stroke="#f03c3c" stroke-width="0.8" />
<line x1="246" y1="308.21" x2="247.6" y2="308.21" stroke="#f03c3c" stroke-width="0.8" />
<line x1="246" y1="305.74" x2="247.6" y2="305.74" stroke="#f03c3c" stroke-width="0.8" />
<line x1="246" y1="303.55" x2="247.6" y2="303.55" stroke="#f03c3c" stroke-width="0.8" />
<line x1="246" y1="288.75" x2="247.6" y2="288.75" stroke="#f03c3c" stroke-width="0.8" />
<line x1="246" y1="281.23" x2="247.6" y2="281.23" stroke="#f03c3c" stroke-width="0.8" />
<line x1="246" y1="275.89" x2="247.6" y2="275.89" stroke="#f03c3c" stroke-width="0.8" />
<line x1="246" y1="271.75" x2="247.6" y2="271.75" stroke="#f03c3c" stroke-width="0.8" />
<line x1="246" y1="268.37" x2="247.6" y2="268.37" stroke="#f03c3c" stroke-width="0.8" />
<line x1="246" y1="265.51" x2="247.6" y2="265.51" stroke="#f03c3c" stroke-width="0.8" />
<line x1="246" y1="263.04" x2="247.6" y2="263.04" stroke="#f03c3c" stroke-width="0.8" />
<line x1="246" y1="260.85" x2="247.6" y2="260.85" stroke="#f03c3c" stroke-width="0.8" />
<line x1="246" y1="246.05" x2="247.6" y2="246.05" stroke="#f03c3c" stroke-width="0.8" />
<line x1="246" y1="238.53" x2="247.6" y2="238.53" stroke="#f03c3c" stroke-width="0.8" />
<line x1="246" y1="233.19" x2="247.6" y2="233.19" stroke="#f03c3c" stroke-width="0.8" />
<line x1="246" y1="229.05" x2="247.6" y2="229.05" stroke="#f03c3c" stroke-width="0.8" />
<line x1="246" y1="225.67" x2="247.6" y2="225.67" stroke="#f03c3c" stroke-width="0.8" />
<line x1="246" y1="222.81" x2="247.6" y2="222.81" stroke="#f03c3c" stroke-width="0.8" />
<line x1="246" y1="220.34" x2="247.6" y2="220.34" stroke="#f03c3c" stroke-width="0.8" />
<line x1="246" y1="218.15" x2="247.6" y2="218.15" stroke="#f03c3c" stroke-width="0.8" />
<text x="0" y="0" font-size="11.7" fill="#f03c3c" text-anchor="middle" font-weight="normal" transform="translate(225.6,280.5) rotate(-90)" xml:space="preserve" stroke="#f03c3c" stroke-width="0.1">Current  (A)</text>
<line x1="404.2" y1="328.8" x2="401.4" y2="328.8" stroke="#1e78e6" stroke-width="1" />
<text x="406" y="331.8" font-size="8.6" fill="#1e78e6" text-anchor="start" font-weight="normal"  stroke="#1e78e6" stroke-width="0.2">0</text>
<line x1="404.2" y1="319.88" x2="402.6" y2="319.88" stroke="#1e78e6" stroke-width="0.9" />
<line x1="404.2" y1="310.95" x2="401.4" y2="310.95" stroke="#1e78e6" stroke-width="1" />
<text x="406" y="313.95" font-size="8.6" fill="#1e78e6" text-anchor="start" font-weight="normal"  stroke="#1e78e6" stroke-width="0.2">40</text>
<line x1="404.2" y1="302.02" x2="402.6" y2="302.02" stroke="#1e78e6" stroke-width="0.9" />
<line x1="404.2" y1="293.1" x2="401.4" y2="293.1" stroke="#1e78e6" stroke-width="1" />
<text x="406" y="296.1" font-size="8.6" fill="#1e78e6" text-anchor="start" font-weight="normal"  stroke="#1e78e6" stroke-width="0.2">80</text>
<line x1="404.2" y1="284.18" x2="402.6" y2="284.18" stroke="#1e78e6" stroke-width="0.9" />
<line x1="404.2" y1="275.25" x2="401.4" y2="275.25" stroke="#1e78e6" stroke-width="1" />
<text x="406" y="278.25" font-size="8.6" fill="#1e78e6" text-anchor="start" font-weight="normal"  stroke="#1e78e6" stroke-width="0.2">120</text>
<line x1="404.2" y1="266.32" x2="402.6" y2="266.32" stroke="#1e78e6" stroke-width="0.9" />
<line x1="404.2" y1="257.4" x2="401.4" y2="257.4" stroke="#1e78e6" stroke-width="1" />
<text x="406" y="260.4" font-size="8.6" fill="#1e78e6" text-anchor="start" font-weight="normal"  stroke="#1e78e6" stroke-width="0.2">160</text>
<line x1="404.2" y1="248.47" x2="402.6" y2="248.47" stroke="#1e78e6" stroke-width="0.9" />
<line x1="404.2" y1="239.55" x2="401.4" y2="239.55" stroke="#1e78e6" stroke-width="1" />
<text x="406" y="242.55" font-size="8.6" fill="#1e78e6" text-anchor="start" font-weight="normal"  stroke="#1e78e6" stroke-width="0.2">200</text>
<line x1="404.2" y1="230.62" x2="402.6" y2="230.62" stroke="#1e78e6" stroke-width="0.9" />
<line x1="404.2" y1="221.7" x2="401.4" y2="221.7" stroke="#1e78e6" stroke-width="1" />
<text x="406" y="224.7" font-size="8.6" fill="#1e78e6" text-anchor="start" font-weight="normal"  stroke="#1e78e6" stroke-width="0.2">240</text>
<text x="0" y="0" font-size="11.8" fill="#1e78e6" text-anchor="middle" font-weight="normal" transform="translate(436,278.3) rotate(-90)" stroke="#1e78e6" stroke-width="0.1">Relative P<tspan font-size="7" dy="2">r</tspan><tspan dy="-2"> (µC/cm</tspan><tspan font-size="7" dy="-4">2</tspan><tspan dy="4">)</tspan></text>
<line x1="250.8" y1="226" x2="267.6" y2="226" stroke="#1e78e6" stroke-width="1" stroke-dasharray="3,1.5"/>
<rect x="257" y="224.1" width="3.8" height="3.8" fill="#1e78e6" />
<text x="269.8" y="228.8" font-size="7.6" fill="#000" text-anchor="start" font-weight="normal"  stroke="#000" stroke-width="0.2">Relative P<tspan font-size="5" dy="2">r</tspan></text>
<line x1="309.2" y1="226" x2="325.2" y2="226" stroke="#f03c3c" stroke-width="1" stroke-dasharray="3,1.5"/>
<rect x="315" y="224.1" width="3.8" height="3.8" fill="#f03c3c" />
<text x="327.8" y="228.8" font-size="7.6" fill="#000" text-anchor="start" font-weight="normal"  stroke="#000" stroke-width="0.2">Current @ -17V</text>
<rect x="488" y="234.5" width="4" height="4" fill="#f03c3c" />
<rect x="493.2" y="232.4" width="4" height="4" fill="#f03c3c" />
<rect x="504.4" y="233" width="4" height="4" fill="#f03c3c" />
<rect x="517.4" y="235.1" width="4" height="4" fill="#f03c3c" />
<rect x="530.4" y="236.9" width="4" height="4" fill="#f03c3c" />
<rect x="543.2" y="246" width="4" height="4" fill="#f03c3c" />
<rect x="556.2" y="249.7" width="4" height="4" fill="#f03c3c" />
<rect x="568.9" y="252.7" width="4" height="4" fill="#f03c3c" />
<rect x="581.9" y="257.2" width="4" height="4" fill="#f03c3c" />
<rect x="600.1" y="267.2" width="4" height="4" fill="#f03c3c" />
<rect x="509.8" y="224.8" width="4" height="4" fill="#f03c3c" />
<text x="522.4" y="228.7" font-size="8" fill="#000" text-anchor="start" font-weight="normal"  stroke="#000" stroke-width="0.2">Maximum ON/OFF ratio</text>
<rect x="481.5" y="216.9" width="130.79999999999995" height="59.099999999999994" fill="none" stroke="#000" stroke-width="1.1"/>
<line x1="507.1" y1="216.9" x2="507.1" y2="219.5" stroke="#000" stroke-width="0.9" />
<text x="507.1" y="215.6" font-size="7.6" fill="#000" text-anchor="middle" font-weight="normal"  stroke="#000" stroke-width="0.2">300</text>
<line x1="519.87" y1="216.9" x2="519.87" y2="218.5" stroke="#000" stroke-width="0.9" />
<line x1="532.63" y1="216.9" x2="532.63" y2="219.5" stroke="#000" stroke-width="0.9" />
<text x="532.63" y="215.6" font-size="7.6" fill="#000" text-anchor="middle" font-weight="normal"  stroke="#000" stroke-width="0.2">400</text>
<line x1="545.39" y1="216.9" x2="545.39" y2="218.5" stroke="#000" stroke-width="0.9" />
<line x1="558.16" y1="216.9" x2="558.16" y2="219.5" stroke="#000" stroke-width="0.9" />
<text x="558.16" y="215.6" font-size="7.6" fill="#000" text-anchor="middle" font-weight="normal"  stroke="#000" stroke-width="0.2">500</text>
<line x1="570.93" y1="216.9" x2="570.93" y2="218.5" stroke="#000" stroke-width="0.9" />
<line x1="583.69" y1="216.9" x2="583.69" y2="219.5" stroke="#000" stroke-width="0.9" />
<text x="583.69" y="215.6" font-size="7.6" fill="#000" text-anchor="middle" font-weight="normal"  stroke="#000" stroke-width="0.2">600</text>
<line x1="596.46" y1="216.9" x2="596.46" y2="218.5" stroke="#000" stroke-width="0.9" />
<line x1="609.22" y1="216.9" x2="609.22" y2="219.5" stroke="#000" stroke-width="0.9" />
<text x="609.22" y="215.6" font-size="7.6" fill="#000" text-anchor="middle" font-weight="normal"  stroke="#000" stroke-width="0.2">700</text>
<line x1="494.34" y1="216.9" x2="494.34" y2="218.5" stroke="#000" stroke-width="0.9" />
<line x1="481.5" y1="268.1" x2="484.1" y2="268.1" stroke="#000" stroke-width="0.9" />
<line x1="612.3" y1="268.1" x2="609.7" y2="268.1" stroke="#000" stroke-width="0.9" />
<text x="478" y="270.8" font-size="7.4" fill="#000" text-anchor="end" font-weight="normal"  stroke="#000" stroke-width="0.12">10</text>
<line x1="481.5" y1="243" x2="484.1" y2="243" stroke="#000" stroke-width="0.9" />
<line x1="612.3" y1="243" x2="609.7" y2="243" stroke="#000" stroke-width="0.9" />
<text x="478" y="245.7" font-size="7.4" fill="#000" text-anchor="end" font-weight="normal"  stroke="#000" stroke-width="0.12">100</text>
<line x1="481.5" y1="275.66" x2="483" y2="275.66" stroke="#000" stroke-width="0.7" />
<line x1="612.3" y1="275.66" x2="610.8" y2="275.66" stroke="#000" stroke-width="0.7" />
<line x1="481.5" y1="273.67" x2="483" y2="273.67" stroke="#000" stroke-width="0.7" />
<line x1="612.3" y1="273.67" x2="610.8" y2="273.67" stroke="#000" stroke-width="0.7" />
<line x1="481.5" y1="271.99" x2="483" y2="271.99" stroke="#000" stroke-width="0.7" />
<line x1="612.3" y1="271.99" x2="610.8" y2="271.99" stroke="#000" stroke-width="0.7" />
<line x1="481.5" y1="270.53" x2="483" y2="270.53" stroke="#000" stroke-width="0.7" />
<line x1="612.3" y1="270.53" x2="610.8" y2="270.53" stroke="#000" stroke-width="0.7" />
<line x1="481.5" y1="269.25" x2="483" y2="269.25" stroke="#000" stroke-width="0.7" />
<line x1="612.3" y1="269.25" x2="610.8" y2="269.25" stroke="#000" stroke-width="0.7" />
<line x1="481.5" y1="260.54" x2="483" y2="260.54" stroke="#000" stroke-width="0.7" />
<line x1="612.3" y1="260.54" x2="610.8" y2="260.54" stroke="#000" stroke-width="0.7" />
<line x1="481.5" y1="256.12" x2="483" y2="256.12" stroke="#000" stroke-width="0.7" />
<line x1="612.3" y1="256.12" x2="610.8" y2="256.12" stroke="#000" stroke-width="0.7" />
<line x1="481.5" y1="252.99" x2="483" y2="252.99" stroke="#000" stroke-width="0.7" />
<line x1="612.3" y1="252.99" x2="610.8" y2="252.99" stroke="#000" stroke-width="0.7" />
<line x1="481.5" y1="250.56" x2="483" y2="250.56" stroke="#000" stroke-width="0.7" />
<line x1="612.3" y1="250.56" x2="610.8" y2="250.56" stroke="#000" stroke-width="0.7" />
<line x1="481.5" y1="248.57" x2="483" y2="248.57" stroke="#000" stroke-width="0.7" />
<line x1="612.3" y1="248.57" x2="610.8" y2="248.57" stroke="#000" stroke-width="0.7" />
<line x1="481.5" y1="246.89" x2="483" y2="246.89" stroke="#000" stroke-width="0.7" />
<line x1="612.3" y1="246.89" x2="610.8" y2="246.89" stroke="#000" stroke-width="0.7" />
<line x1="481.5" y1="245.43" x2="483" y2="245.43" stroke="#000" stroke-width="0.7" />
<line x1="612.3" y1="245.43" x2="610.8" y2="245.43" stroke="#000" stroke-width="0.7" />
<line x1="481.5" y1="244.15" x2="483" y2="244.15" stroke="#000" stroke-width="0.7" />
<line x1="612.3" y1="244.15" x2="610.8" y2="244.15" stroke="#000" stroke-width="0.7" />
<line x1="481.5" y1="235.44" x2="483" y2="235.44" stroke="#000" stroke-width="0.7" />
<line x1="612.3" y1="235.44" x2="610.8" y2="235.44" stroke="#000" stroke-width="0.7" />
<line x1="481.5" y1="231.02" x2="483" y2="231.02" stroke="#000" stroke-width="0.7" />
<line x1="612.3" y1="231.02" x2="610.8" y2="231.02" stroke="#000" stroke-width="0.7" />
<line x1="481.5" y1="227.89" x2="483" y2="227.89" stroke="#000" stroke-width="0.7" />
<line x1="612.3" y1="227.89" x2="610.8" y2="227.89" stroke="#000" stroke-width="0.7" />
<line x1="481.5" y1="225.46" x2="483" y2="225.46" stroke="#000" stroke-width="0.7" />
<line x1="612.3" y1="225.46" x2="610.8" y2="225.46" stroke="#000" stroke-width="0.7" />
<line x1="481.5" y1="223.47" x2="483" y2="223.47" stroke="#000" stroke-width="0.7" />
<line x1="612.3" y1="223.47" x2="610.8" y2="223.47" stroke="#000" stroke-width="0.7" />
<line x1="481.5" y1="221.79" x2="483" y2="221.79" stroke="#000" stroke-width="0.7" />
<line x1="612.3" y1="221.79" x2="610.8" y2="221.79" stroke="#000" stroke-width="0.7" />
<line x1="481.5" y1="220.33" x2="483" y2="220.33" stroke="#000" stroke-width="0.7" />
<line x1="612.3" y1="220.33" x2="610.8" y2="220.33" stroke="#000" stroke-width="0.7" />
<line x1="481.5" y1="219.05" x2="483" y2="219.05" stroke="#000" stroke-width="0.7" />
<line x1="612.3" y1="219.05" x2="610.8" y2="219.05" stroke="#000" stroke-width="0.7" />
<text x="508.1" y="206.5" font-size="10" fill="#000" text-anchor="start" font-weight="normal"  stroke="#000" stroke-width="0.1" textLength="77.2" lengthAdjust="spacingAndGlyphs">Temperature (K)</text>
<text x="0" y="0" font-size="10.5" fill="#000" text-anchor="middle" font-weight="normal" transform="translate(464.5,241) rotate(-90)" stroke="#000" stroke-width="0.1" textLength="62.5" lengthAdjust="spacingAndGlyphs">ON/OFF ratio</text>
<rect x="481.5" y="284.8" width="130.79999999999995" height="58.19999999999999" fill="none" stroke="#000" stroke-width="1.1"/>
<line x1="491.6" y1="343" x2="491.6" y2="340.4" stroke="#000" stroke-width="0.9" />
<text x="490.4" y="351.3" font-size="7.2" fill="#000" text-anchor="middle" font-weight="normal"  stroke="#000" stroke-width="0.12">10</text>
<text x="494.7" y="347.9" font-size="4.7" fill="#000" text-anchor="start" font-weight="normal"  stroke="#000" stroke-width="0.12">0</text>
<line x1="483.54" y1="343" x2="483.54" y2="341.5" stroke="#000" stroke-width="0.7" />
<line x1="485.97" y1="343" x2="485.97" y2="341.5" stroke="#000" stroke-width="0.7" />
<line x1="488.08" y1="343" x2="488.08" y2="341.5" stroke="#000" stroke-width="0.7" />
<line x1="489.94" y1="343" x2="489.94" y2="341.5" stroke="#000" stroke-width="0.7" />
<line x1="527.93" y1="343" x2="527.93" y2="340.4" stroke="#000" stroke-width="0.9" />
<text x="526.73" y="351.3" font-size="7.2" fill="#000" text-anchor="middle" font-weight="normal"  stroke="#000" stroke-width="0.12">10</text>
<text x="531.03" y="347.9" font-size="4.7" fill="#000" text-anchor="start" font-weight="normal"  stroke="#000" stroke-width="0.12">1</text>
<line x1="502.54" y1="343" x2="502.54" y2="341.5" stroke="#000" stroke-width="0.7" />
<line x1="508.93" y1="343" x2="508.93" y2="341.5" stroke="#000" stroke-width="0.7" />
<line x1="513.47" y1="343" x2="513.47" y2="341.5" stroke="#000" stroke-width="0.7" />
<line x1="516.99" y1="343" x2="516.99" y2="341.5" stroke="#000" stroke-width="0.7" />
<line x1="519.87" y1="343" x2="519.87" y2="341.5" stroke="#000" stroke-width="0.7" />
<line x1="522.3" y1="343" x2="522.3" y2="341.5" stroke="#000" stroke-width="0.7" />
<line x1="524.41" y1="343" x2="524.41" y2="341.5" stroke="#000" stroke-width="0.7" />
<line x1="526.27" y1="343" x2="526.27" y2="341.5" stroke="#000" stroke-width="0.7" />
<line x1="564.26" y1="343" x2="564.26" y2="340.4" stroke="#000" stroke-width="0.9" />
<text x="563.06" y="351.3" font-size="7.2" fill="#000" text-anchor="middle" font-weight="normal"  stroke="#000" stroke-width="0.12">10</text>
<text x="567.36" y="347.9" font-size="4.7" fill="#000" text-anchor="start" font-weight="normal"  stroke="#000" stroke-width="0.12">2</text>
<line x1="538.87" y1="343" x2="538.87" y2="341.5" stroke="#000" stroke-width="0.7" />
<line x1="545.26" y1="343" x2="545.26" y2="341.5" stroke="#000" stroke-width="0.7" />
<line x1="549.8" y1="343" x2="549.8" y2="341.5" stroke="#000" stroke-width="0.7" />
<line x1="553.32" y1="343" x2="553.32" y2="341.5" stroke="#000" stroke-width="0.7" />
<line x1="556.2" y1="343" x2="556.2" y2="341.5" stroke="#000" stroke-width="0.7" />
<line x1="558.63" y1="343" x2="558.63" y2="341.5" stroke="#000" stroke-width="0.7" />
<line x1="560.74" y1="343" x2="560.74" y2="341.5" stroke="#000" stroke-width="0.7" />
<line x1="562.6" y1="343" x2="562.6" y2="341.5" stroke="#000" stroke-width="0.7" />
<line x1="600.59" y1="343" x2="600.59" y2="340.4" stroke="#000" stroke-width="0.9" />
<text x="599.39" y="351.3" font-size="7.2" fill="#000" text-anchor="middle" font-weight="normal"  stroke="#000" stroke-width="0.12">10</text>
<text x="603.69" y="347.9" font-size="4.7" fill="#000" text-anchor="start" font-weight="normal"  stroke="#000" stroke-width="0.12">3</text>
<line x1="575.2" y1="343" x2="575.2" y2="341.5" stroke="#000" stroke-width="0.7" />
<line x1="581.59" y1="343" x2="581.59" y2="341.5" stroke="#000" stroke-width="0.7" />
<line x1="586.13" y1="343" x2="586.13" y2="341.5" stroke="#000" stroke-width="0.7" />
<line x1="589.65" y1="343" x2="589.65" y2="341.5" stroke="#000" stroke-width="0.7" />
<line x1="592.53" y1="343" x2="592.53" y2="341.5" stroke="#000" stroke-width="0.7" />
<line x1="594.96" y1="343" x2="594.96" y2="341.5" stroke="#000" stroke-width="0.7" />
<line x1="597.07" y1="343" x2="597.07" y2="341.5" stroke="#000" stroke-width="0.7" />
<line x1="598.93" y1="343" x2="598.93" y2="341.5" stroke="#000" stroke-width="0.7" />
<line x1="611.53" y1="343" x2="611.53" y2="341.5" stroke="#000" stroke-width="0.7" />
<line x1="481.5" y1="294.6" x2="484.1" y2="294.6" stroke="#000" stroke-width="0.9" />
<text x="474.4" y="297.5" font-size="7.3" fill="#000" text-anchor="end" font-weight="normal"  stroke="#000" stroke-width="0.12">10</text>
<text x="474.6" y="294.2" font-size="4.8" fill="#000" text-anchor="start" font-weight="normal"  stroke="#000" stroke-width="0.12">-6</text>
<line x1="481.5" y1="327" x2="484.1" y2="327" stroke="#000" stroke-width="0.9" />
<text x="474.4" y="329.9" font-size="7.3" fill="#000" text-anchor="end" font-weight="normal"  stroke="#000" stroke-width="0.12">10</text>
<text x="474.6" y="326.6" font-size="4.8" fill="#000" text-anchor="start" font-weight="normal"  stroke="#000" stroke-width="0.12">-7</text>
<line x1="481.5" y1="288.4" x2="482.9" y2="288.4" stroke="#000" stroke-width="0.6" />
<line x1="481.5" y1="292" x2="482.9" y2="292" stroke="#000" stroke-width="0.6" />
<line x1="481.5" y1="295.6" x2="482.9" y2="295.6" stroke="#000" stroke-width="0.6" />
<line x1="481.5" y1="299.2" x2="482.9" y2="299.2" stroke="#000" stroke-width="0.6" />
<line x1="481.5" y1="302.8" x2="482.9" y2="302.8" stroke="#000" stroke-width="0.6" />
<line x1="481.5" y1="306.4" x2="482.9" y2="306.4" stroke="#000" stroke-width="0.6" />
<line x1="481.5" y1="310" x2="482.9" y2="310" stroke="#000" stroke-width="0.6" />
<line x1="481.5" y1="313.6" x2="482.9" y2="313.6" stroke="#000" stroke-width="0.6" />
<line x1="481.5" y1="317.2" x2="482.9" y2="317.2" stroke="#000" stroke-width="0.6" />
<line x1="481.5" y1="320.8" x2="482.9" y2="320.8" stroke="#000" stroke-width="0.6" />
<line x1="481.5" y1="324.4" x2="482.9" y2="324.4" stroke="#000" stroke-width="0.6" />
<line x1="481.5" y1="328" x2="482.9" y2="328" stroke="#000" stroke-width="0.6" />
<line x1="481.5" y1="331.6" x2="482.9" y2="331.6" stroke="#000" stroke-width="0.6" />
<line x1="481.5" y1="335.2" x2="482.9" y2="335.2" stroke="#000" stroke-width="0.6" />
<line x1="481.5" y1="338.8" x2="482.9" y2="338.8" stroke="#000" stroke-width="0.6" />
<text x="509.4" y="360.5" font-size="10.2" fill="#000" text-anchor="start" font-weight="normal"  stroke="#000" stroke-width="0.1" textLength="83.2" lengthAdjust="spacingAndGlyphs">Retention time (s)</text>
<text x="0" y="0" font-size="10.5" fill="#000" text-anchor="middle" font-weight="normal" transform="translate(464.6,316.3) rotate(-90)" stroke="#000" stroke-width="0.1" textLength="51.5" lengthAdjust="spacingAndGlyphs">Current (A)</text>
<rect x="490.4" y="298.2" width="4" height="4" fill="#f03c3c" />
<rect x="490.4" y="328.9" width="4" height="4" fill="#1e78e6" />
<rect x="507.9" y="298.8" width="4" height="4" fill="#f03c3c" />
<rect x="507.9" y="330.4" width="4" height="4" fill="#1e78e6" />
<rect x="526.2" y="297.7" width="4" height="4" fill="#f03c3c" />
<rect x="526.2" y="329.4" width="4" height="4" fill="#1e78e6" />
<rect x="544.1" y="297.1" width="4" height="4" fill="#f03c3c" />
<rect x="544.1" y="328.7" width="4" height="4" fill="#1e78e6" />
<rect x="563.1" y="296.3" width="4" height="4" fill="#f03c3c" />
<rect x="563.1" y="329.4" width="4" height="4" fill="#1e78e6" />
<rect x="580.6" y="295.6" width="4" height="4" fill="#f03c3c" />
<rect x="580.6" y="328.7" width="4" height="4" fill="#1e78e6" />
<rect x="599.3" y="295" width="4" height="4" fill="#f03c3c" />
<rect x="599.3" y="328.3" width="4" height="4" fill="#1e78e6" />
<text x="489.4" y="295.1" font-size="8.7" fill="#f03c3c" text-anchor="start" font-weight="normal"  stroke="#f03c3c" stroke-width="0.2">I</text>
<text x="492.2" y="297.6" font-size="6.3" fill="#f03c3c" text-anchor="start" font-weight="normal"  stroke="#f03c3c" stroke-width="0.12" textLength="9.2" lengthAdjust="spacingAndGlyphs">ON</text>
<text x="489.4" y="325" font-size="8.7" fill="#1e78e6" text-anchor="start" font-weight="normal"  stroke="#1e78e6" stroke-width="0.2">I</text>
<text x="492.2" y="328" font-size="6.3" fill="#1e78e6" text-anchor="start" font-weight="normal"  stroke="#1e78e6" stroke-width="0.12" textLength="12.2" lengthAdjust="spacingAndGlyphs">OFF</text>
<text x="524" y="313" font-size="8.1" fill="#000" text-anchor="start" font-weight="normal"  stroke="#000" stroke-width="0.2" textLength="77.3" lengthAdjust="spacingAndGlyphs">V<tspan font-size="5.2" dy="2">write</tspan><tspan dy="-2"> = ± 23 V, 20 ms</tspan></text>
<text x="524" y="325.7" font-size="8.1" fill="#000" text-anchor="start" font-weight="normal"  stroke="#000" stroke-width="0.2" textLength="44" lengthAdjust="spacingAndGlyphs">V<tspan font-size="5.2" dy="2">read</tspan><tspan dy="-2"> = - 8 V</tspan></text>
<text x="575.6" y="322.9" font-size="8.1" fill="#000" text-anchor="start" font-weight="normal"  stroke="#000" stroke-width="0.2" textLength="29.5" lengthAdjust="spacingAndGlyphs">@670 K</text>
</svg></body></html>
